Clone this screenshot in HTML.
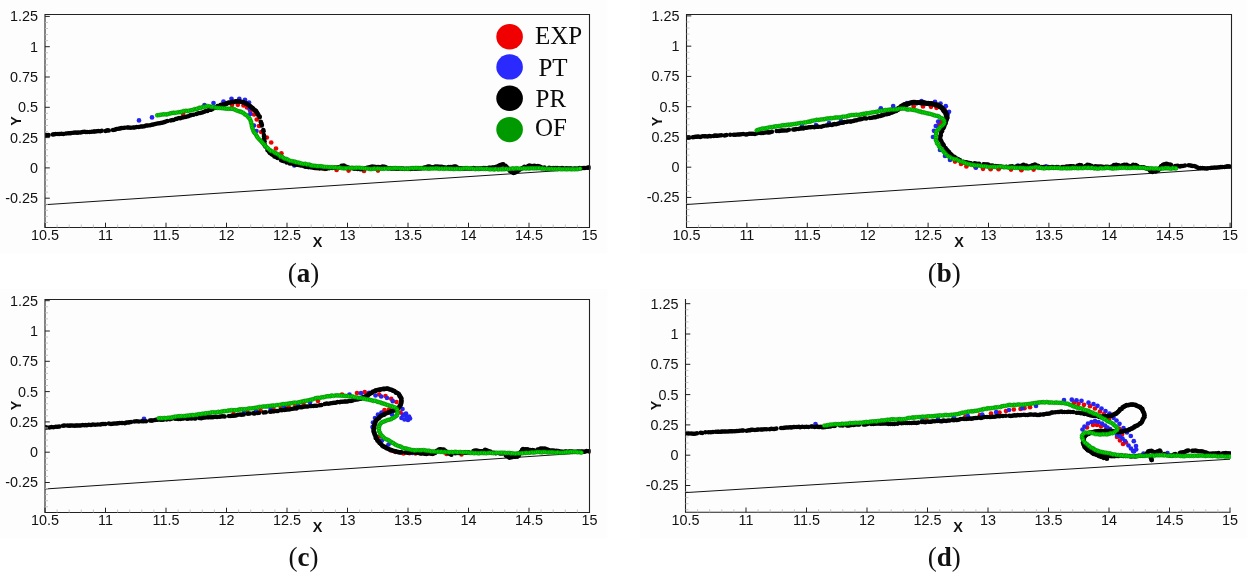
<!DOCTYPE html>
<html lang="en"><head><meta charset="utf-8"><title>Wave breaking profiles</title>
<style>
html,body{margin:0;padding:0;background:#fff}
body{width:1250px;height:580px;position:relative;overflow:hidden}
.cap{position:absolute;width:80px;margin-left:-40px;text-align:center;font-family:"Liberation Serif",serif;font-size:27px;line-height:30px;color:#111;white-space:nowrap}
.cap b{font-weight:bold}
</style></head><body>
<svg width="1250" height="580" viewBox="0 0 1250 580" style="position:absolute;left:0;top:0"><g fill="#fdfdfd"><rect x="0" y="0" width="607.5" height="253.5"/><rect x="640" y="0" width="607.5" height="253.5"/><rect x="0" y="289" width="607.5" height="249.5"/><rect x="640" y="289" width="607.5" height="249.5"/></g><g id="panel-a"><clipPath id="clip-a"><rect x="45" y="14.5" width="545.5" height="213.0"/></clipPath><path d="M45 204.7L589.5 168.6" stroke="#111" stroke-width="1" fill="none"/><g clip-path="url(#clip-a)"><g fill="#f00000"><circle cx="183.0" cy="113.6" r="2.35"/><circle cx="232.0" cy="105.0" r="2.35"/><circle cx="237.8" cy="104.8" r="2.35"/><circle cx="243.5" cy="105.5" r="2.35"/><circle cx="247.0" cy="107.5" r="2.35"/><circle cx="250.5" cy="111.2" r="2.35"/><circle cx="254.0" cy="114.5" r="2.35"/><circle cx="256.8" cy="119.5" r="2.35"/><circle cx="259.0" cy="126.0" r="2.35"/><circle cx="261.2" cy="132.0" r="2.35"/><circle cx="266.8" cy="137.5" r="2.35"/><circle cx="271.2" cy="142.5" r="2.35"/><circle cx="276.0" cy="148.5" r="2.35"/><circle cx="281.4" cy="153.3" r="2.35"/><circle cx="316.4" cy="168.2" r="2.35"/><circle cx="325.0" cy="169.0" r="2.35"/><circle cx="336.6" cy="170.0" r="2.35"/><circle cx="348.6" cy="170.6" r="2.35"/><circle cx="364.0" cy="171.0" r="2.35"/><circle cx="378.0" cy="170.6" r="2.35"/></g><g fill="#2424f4"><circle cx="139.0" cy="120.4" r="2.35"/><circle cx="152.0" cy="117.4" r="2.35"/><circle cx="204.5" cy="105.0" r="2.35"/><circle cx="213.5" cy="103.0" r="2.35"/><circle cx="223.5" cy="101.5" r="2.35"/><circle cx="231.5" cy="98.8" r="2.35"/><circle cx="239.3" cy="98.8" r="2.35"/><circle cx="245.0" cy="99.8" r="2.35"/><circle cx="249.0" cy="102.5" r="2.35"/><circle cx="249.5" cy="109.0" r="2.35"/><circle cx="250.3" cy="114.0" r="2.35"/><circle cx="254.0" cy="125.5" r="2.35"/><circle cx="256.5" cy="131.0" r="2.35"/><circle cx="275.0" cy="155.0" r="2.35"/><circle cx="294.3" cy="165.4" r="2.35"/><circle cx="308.4" cy="167.1" r="2.35"/></g><g fill="#000"><circle cx="45.0" cy="135.5" r="2.25"/><circle cx="46.8" cy="135.1" r="2.25"/><circle cx="48.6" cy="135.1" r="2.25"/><circle cx="52.8" cy="134.6" r="2.25"/><circle cx="54.1" cy="134.2" r="2.25"/><circle cx="55.7" cy="134.1" r="2.25"/><circle cx="58.0" cy="133.9" r="2.25"/><circle cx="59.5" cy="134.0" r="2.25"/><circle cx="61.4" cy="133.7" r="2.25"/><circle cx="63.3" cy="134.0" r="2.25"/><circle cx="66.0" cy="133.5" r="2.25"/><circle cx="68.3" cy="133.3" r="2.25"/><circle cx="70.1" cy="133.3" r="2.25"/><circle cx="71.2" cy="133.1" r="2.25"/><circle cx="73.4" cy="132.7" r="2.25"/><circle cx="75.2" cy="132.6" r="2.25"/><circle cx="77.0" cy="132.7" r="2.25"/><circle cx="78.3" cy="132.4" r="2.25"/><circle cx="80.6" cy="132.4" r="2.25"/><circle cx="82.4" cy="132.1" r="2.25"/><circle cx="84.2" cy="131.8" r="2.25"/><circle cx="85.7" cy="131.9" r="2.25"/><circle cx="87.1" cy="132.1" r="2.25"/><circle cx="89.5" cy="132.1" r="2.25"/><circle cx="91.6" cy="131.7" r="2.25"/><circle cx="93.8" cy="131.4" r="2.25"/><circle cx="94.8" cy="131.6" r="2.25"/><circle cx="96.8" cy="131.3" r="2.25"/><circle cx="98.3" cy="131.1" r="2.25"/><circle cx="100.2" cy="131.2" r="2.25"/><circle cx="101.8" cy="130.7" r="2.25"/><circle cx="105.6" cy="130.9" r="2.25"/><circle cx="107.3" cy="130.3" r="2.25"/><circle cx="108.8" cy="130.6" r="2.25"/><circle cx="113.0" cy="129.9" r="2.25"/><circle cx="114.8" cy="129.8" r="2.25"/><circle cx="116.4" cy="129.0" r="2.25"/><circle cx="118.4" cy="128.8" r="2.25"/><circle cx="120.1" cy="128.6" r="2.25"/><circle cx="121.3" cy="128.1" r="2.25"/><circle cx="122.9" cy="127.9" r="2.25"/><circle cx="124.6" cy="127.7" r="2.25"/><circle cx="127.2" cy="127.6" r="2.25"/><circle cx="128.7" cy="127.5" r="2.25"/><circle cx="130.6" cy="127.7" r="2.25"/><circle cx="133.0" cy="127.4" r="2.25"/><circle cx="134.6" cy="127.5" r="2.25"/><circle cx="136.7" cy="126.9" r="2.25"/><circle cx="138.8" cy="126.9" r="2.25"/><circle cx="140.9" cy="126.5" r="2.25"/><circle cx="142.5" cy="126.4" r="2.25"/><circle cx="144.4" cy="126.2" r="2.25"/><circle cx="146.1" cy="125.5" r="2.25"/><circle cx="147.9" cy="125.4" r="2.25"/><circle cx="150.2" cy="125.2" r="2.25"/><circle cx="151.8" cy="124.8" r="2.25"/><circle cx="153.3" cy="124.6" r="2.25"/><circle cx="155.2" cy="124.0" r="2.25"/><circle cx="157.3" cy="123.4" r="2.25"/><circle cx="159.3" cy="123.2" r="2.25"/><circle cx="160.7" cy="123.0" r="2.25"/><circle cx="162.0" cy="122.7" r="2.25"/><circle cx="164.0" cy="122.2" r="2.25"/><circle cx="165.2" cy="121.8" r="2.25"/><circle cx="167.3" cy="121.1" r="2.25"/><circle cx="170.7" cy="120.5" r="2.25"/><circle cx="172.5" cy="120.1" r="2.25"/><circle cx="173.5" cy="119.9" r="2.25"/><circle cx="175.8" cy="119.0" r="2.25"/><circle cx="176.9" cy="118.7" r="2.25"/><circle cx="179.0" cy="118.1" r="2.25"/><circle cx="180.3" cy="118.2" r="2.25"/><circle cx="182.0" cy="117.4" r="2.25"/><circle cx="183.4" cy="117.2" r="2.25"/><circle cx="185.0" cy="116.9" r="2.25"/><circle cx="186.0" cy="116.7" r="2.25"/><circle cx="188.2" cy="116.3" r="2.25"/><circle cx="190.0" cy="115.6" r="2.25"/><circle cx="191.1" cy="115.1" r="2.25"/><circle cx="193.4" cy="114.7" r="2.25"/><circle cx="196.3" cy="114.0" r="2.25"/><circle cx="198.3" cy="113.2" r="2.25"/><circle cx="200.1" cy="112.9" r="2.25"/><circle cx="202.2" cy="112.6" r="2.25"/><circle cx="204.1" cy="111.7" r="2.25"/><circle cx="205.9" cy="111.0" r="2.25"/><circle cx="207.2" cy="110.9" r="2.25"/><circle cx="208.4" cy="110.3" r="2.25"/><circle cx="210.0" cy="109.7" r="2.25"/><circle cx="210.2" cy="109.8" r="2.25"/></g><g fill="#000"><circle cx="210.3" cy="109.5" r="2.4"/><circle cx="211.8" cy="109.3" r="2.4"/><circle cx="212.9" cy="108.3" r="2.4"/><circle cx="214.7" cy="107.9" r="2.4"/><circle cx="216.5" cy="107.3" r="2.4"/><circle cx="217.7" cy="106.2" r="2.4"/><circle cx="219.4" cy="105.8" r="2.4"/><circle cx="221.0" cy="105.0" r="2.4"/><circle cx="222.5" cy="105.0" r="2.4"/><circle cx="224.2" cy="104.5" r="2.4"/><circle cx="225.8" cy="104.0" r="2.4"/><circle cx="226.8" cy="103.5" r="2.4"/><circle cx="228.6" cy="102.7" r="2.4"/><circle cx="230.4" cy="102.6" r="2.4"/><circle cx="232.1" cy="101.9" r="2.4"/><circle cx="233.7" cy="102.0" r="2.4"/><circle cx="235.7" cy="101.4" r="2.4"/><circle cx="237.1" cy="101.4" r="2.4"/><circle cx="238.7" cy="101.5" r="2.4"/><circle cx="240.3" cy="101.6" r="2.4"/><circle cx="242.3" cy="102.1" r="2.4"/><circle cx="243.3" cy="102.3" r="2.4"/><circle cx="245.0" cy="103.1" r="2.4"/><circle cx="246.4" cy="103.7" r="2.4"/><circle cx="247.9" cy="104.6" r="2.4"/><circle cx="249.7" cy="105.9" r="2.4"/><circle cx="250.8" cy="106.9" r="2.4"/><circle cx="252.2" cy="107.9" r="2.4"/><circle cx="253.4" cy="109.0" r="2.4"/><circle cx="255.0" cy="110.4" r="2.4"/><circle cx="256.0" cy="111.2" r="2.4"/><circle cx="256.9" cy="112.6" r="2.4"/><circle cx="257.6" cy="114.0" r="2.4"/><circle cx="258.5" cy="115.3" r="2.4"/><circle cx="259.7" cy="117.0" r="2.4"/></g><g fill="#000"><circle cx="260.7" cy="121.8" r="2.25"/><circle cx="261.1" cy="122.6" r="2.25"/><circle cx="261.7" cy="124.3" r="2.25"/><circle cx="261.8" cy="125.4" r="2.25"/><circle cx="263.3" cy="129.9" r="2.25"/><circle cx="263.5" cy="131.2" r="2.25"/><circle cx="263.9" cy="134.9" r="2.25"/><circle cx="264.1" cy="136.3" r="2.25"/><circle cx="264.2" cy="138.2" r="2.25"/><circle cx="264.0" cy="139.8" r="2.25"/><circle cx="264.5" cy="141.3" r="2.25"/><circle cx="264.4" cy="143.4" r="2.25"/><circle cx="264.5" cy="145.1" r="2.25"/><circle cx="265.4" cy="146.6" r="2.25"/><circle cx="267.4" cy="150.1" r="2.25"/><circle cx="268.7" cy="151.6" r="2.25"/><circle cx="269.9" cy="153.1" r="2.25"/><circle cx="271.6" cy="154.2" r="2.25"/><circle cx="273.1" cy="155.1" r="2.25"/><circle cx="274.4" cy="156.4" r="2.25"/><circle cx="276.2" cy="157.1" r="2.25"/><circle cx="277.5" cy="157.9" r="2.25"/><circle cx="281.1" cy="160.2" r="2.25"/><circle cx="282.7" cy="160.8" r="2.25"/><circle cx="284.1" cy="161.2" r="2.25"/><circle cx="286.7" cy="162.4" r="2.25"/><circle cx="289.8" cy="163.4" r="2.25"/><circle cx="292.0" cy="163.5" r="2.25"/><circle cx="293.8" cy="164.1" r="2.25"/><circle cx="295.1" cy="164.8" r="2.25"/><circle cx="297.2" cy="164.7" r="2.25"/><circle cx="298.5" cy="164.9" r="2.25"/><circle cx="300.7" cy="165.6" r="2.25"/><circle cx="302.7" cy="165.6" r="2.25"/><circle cx="304.2" cy="166.2" r="2.25"/><circle cx="305.7" cy="166.7" r="2.25"/><circle cx="307.7" cy="166.8" r="2.25"/><circle cx="308.9" cy="167.1" r="2.25"/><circle cx="310.7" cy="167.2" r="2.25"/><circle cx="311.9" cy="167.3" r="2.25"/><circle cx="313.6" cy="167.7" r="2.25"/><circle cx="314.8" cy="168.0" r="2.25"/><circle cx="316.7" cy="167.7" r="2.25"/><circle cx="317.5" cy="167.9" r="2.25"/><circle cx="319.5" cy="168.4" r="2.25"/><circle cx="321.3" cy="168.1" r="2.25"/><circle cx="322.7" cy="168.4" r="2.25"/><circle cx="324.5" cy="168.2" r="2.25"/><circle cx="326.0" cy="168.7" r="2.25"/><circle cx="327.1" cy="168.3" r="2.25"/><circle cx="329.1" cy="168.2" r="2.25"/><circle cx="332.1" cy="168.0" r="2.25"/><circle cx="334.5" cy="167.7" r="2.25"/><circle cx="336.2" cy="167.6" r="2.25"/><circle cx="338.7" cy="167.2" r="2.25"/><circle cx="340.1" cy="166.9" r="2.25"/><circle cx="341.6" cy="165.7" r="2.25"/><circle cx="343.8" cy="165.5" r="2.25"/><circle cx="345.6" cy="166.5" r="2.25"/><circle cx="347.7" cy="167.3" r="2.25"/><circle cx="349.0" cy="168.0" r="2.25"/><circle cx="351.2" cy="168.1" r="2.25"/><circle cx="352.7" cy="168.1" r="2.25"/><circle cx="354.1" cy="168.7" r="2.25"/><circle cx="355.8" cy="168.6" r="2.25"/><circle cx="357.6" cy="169.1" r="2.25"/><circle cx="359.3" cy="169.1" r="2.25"/><circle cx="360.7" cy="169.3" r="2.25"/><circle cx="362.2" cy="169.0" r="2.25"/><circle cx="364.1" cy="168.8" r="2.25"/><circle cx="366.2" cy="168.0" r="2.25"/><circle cx="368.0" cy="167.5" r="2.25"/><circle cx="370.2" cy="167.1" r="2.25"/><circle cx="372.1" cy="166.4" r="2.25"/><circle cx="374.2" cy="166.8" r="2.25"/><circle cx="375.6" cy="167.1" r="2.25"/><circle cx="377.1" cy="166.9" r="2.25"/><circle cx="378.7" cy="167.1" r="2.25"/><circle cx="380.4" cy="167.3" r="2.25"/><circle cx="382.5" cy="166.4" r="2.25"/><circle cx="384.5" cy="166.7" r="2.25"/><circle cx="385.8" cy="167.3" r="2.25"/><circle cx="387.6" cy="168.3" r="2.25"/><circle cx="388.7" cy="168.2" r="2.25"/><circle cx="390.3" cy="168.2" r="2.25"/><circle cx="392.0" cy="168.7" r="2.25"/><circle cx="393.7" cy="168.5" r="2.25"/><circle cx="395.5" cy="168.6" r="2.25"/><circle cx="397.0" cy="168.7" r="2.25"/><circle cx="398.9" cy="168.7" r="2.25"/><circle cx="401.2" cy="168.6" r="2.25"/><circle cx="402.9" cy="168.7" r="2.25"/><circle cx="403.9" cy="168.8" r="2.25"/><circle cx="406.3" cy="168.7" r="2.25"/><circle cx="408.2" cy="168.8" r="2.25"/><circle cx="410.2" cy="169.0" r="2.25"/><circle cx="411.6" cy="168.8" r="2.25"/><circle cx="412.9" cy="168.5" r="2.25"/><circle cx="414.9" cy="168.8" r="2.25"/><circle cx="416.6" cy="168.5" r="2.25"/><circle cx="417.9" cy="168.5" r="2.25"/><circle cx="420.0" cy="168.4" r="2.25"/><circle cx="421.5" cy="168.3" r="2.25"/><circle cx="423.1" cy="168.0" r="2.25"/><circle cx="424.6" cy="167.5" r="2.25"/><circle cx="426.4" cy="167.2" r="2.25"/><circle cx="427.9" cy="166.5" r="2.25"/><circle cx="429.6" cy="166.6" r="2.25"/><circle cx="431.6" cy="167.2" r="2.25"/><circle cx="433.2" cy="167.2" r="2.25"/><circle cx="435.4" cy="166.6" r="2.25"/><circle cx="437.7" cy="166.6" r="2.25"/><circle cx="440.0" cy="166.7" r="2.25"/><circle cx="441.8" cy="166.7" r="2.25"/><circle cx="443.5" cy="167.2" r="2.25"/><circle cx="445.4" cy="167.6" r="2.25"/><circle cx="447.4" cy="167.7" r="2.25"/><circle cx="448.7" cy="167.1" r="2.25"/><circle cx="450.3" cy="167.1" r="2.25"/><circle cx="452.0" cy="167.0" r="2.25"/><circle cx="454.0" cy="166.5" r="2.25"/><circle cx="455.7" cy="166.6" r="2.25"/><circle cx="457.1" cy="167.6" r="2.25"/><circle cx="459.2" cy="168.5" r="2.25"/><circle cx="460.7" cy="168.3" r="2.25"/><circle cx="463.0" cy="168.6" r="2.25"/><circle cx="464.3" cy="168.5" r="2.25"/><circle cx="465.9" cy="168.3" r="2.25"/><circle cx="467.2" cy="168.6" r="2.25"/><circle cx="469.6" cy="168.7" r="2.25"/><circle cx="471.5" cy="168.5" r="2.25"/><circle cx="473.6" cy="168.1" r="2.25"/><circle cx="475.6" cy="168.5" r="2.25"/><circle cx="477.7" cy="168.5" r="2.25"/><circle cx="479.8" cy="168.5" r="2.25"/><circle cx="481.3" cy="168.6" r="2.25"/><circle cx="483.2" cy="168.1" r="2.25"/><circle cx="485.0" cy="168.0" r="2.25"/><circle cx="486.6" cy="168.2" r="2.25"/><circle cx="488.8" cy="167.7" r="2.25"/><circle cx="490.0" cy="167.7" r="2.25"/><circle cx="492.3" cy="167.6" r="2.25"/><circle cx="493.5" cy="167.4" r="2.25"/><circle cx="495.8" cy="167.1" r="2.25"/><circle cx="497.3" cy="166.4" r="2.25"/><circle cx="498.9" cy="165.8" r="2.25"/><circle cx="500.3" cy="165.0" r="2.25"/><circle cx="502.1" cy="164.6" r="2.25"/><circle cx="503.2" cy="164.3" r="2.25"/><circle cx="505.5" cy="165.7" r="2.25"/><circle cx="506.6" cy="166.9" r="2.25"/><circle cx="508.1" cy="168.5" r="2.25"/><circle cx="508.9" cy="169.5" r="2.25"/><circle cx="510.1" cy="170.9" r="2.25"/><circle cx="511.6" cy="172.1" r="2.25"/><circle cx="513.5" cy="172.9" r="2.25"/><circle cx="515.1" cy="172.5" r="2.25"/><circle cx="516.4" cy="171.4" r="2.25"/><circle cx="517.9" cy="170.9" r="2.25"/><circle cx="519.4" cy="169.8" r="2.25"/><circle cx="520.7" cy="168.9" r="2.25"/><circle cx="522.5" cy="167.9" r="2.25"/><circle cx="524.4" cy="166.8" r="2.25"/><circle cx="528.2" cy="166.0" r="2.25"/><circle cx="529.5" cy="165.5" r="2.25"/><circle cx="531.3" cy="166.1" r="2.25"/><circle cx="533.0" cy="166.0" r="2.25"/><circle cx="534.5" cy="165.7" r="2.25"/><circle cx="535.9" cy="166.2" r="2.25"/><circle cx="537.9" cy="166.0" r="2.25"/><circle cx="539.5" cy="166.6" r="2.25"/><circle cx="540.8" cy="167.1" r="2.25"/><circle cx="544.4" cy="167.6" r="2.25"/><circle cx="549.2" cy="167.8" r="2.25"/><circle cx="551.4" cy="168.2" r="2.25"/><circle cx="553.1" cy="168.0" r="2.25"/><circle cx="555.2" cy="167.9" r="2.25"/><circle cx="557.1" cy="167.9" r="2.25"/><circle cx="558.5" cy="168.3" r="2.25"/><circle cx="560.1" cy="168.6" r="2.25"/><circle cx="562.1" cy="168.1" r="2.25"/><circle cx="563.5" cy="168.4" r="2.25"/><circle cx="566.2" cy="168.3" r="2.25"/><circle cx="568.2" cy="168.5" r="2.25"/><circle cx="570.0" cy="168.6" r="2.25"/><circle cx="571.1" cy="168.4" r="2.25"/><circle cx="573.4" cy="168.7" r="2.25"/><circle cx="574.4" cy="168.7" r="2.25"/><circle cx="575.6" cy="168.6" r="2.25"/><circle cx="578.0" cy="168.4" r="2.25"/><circle cx="579.7" cy="168.0" r="2.25"/><circle cx="581.3" cy="168.3" r="2.25"/><circle cx="583.2" cy="168.1" r="2.25"/><circle cx="584.7" cy="168.1" r="2.25"/><circle cx="587.2" cy="167.8" r="2.25"/><circle cx="588.6" cy="167.6" r="2.25"/><circle cx="589.7" cy="167.6" r="2.25"/></g><g fill="#00dc00" stroke="#007a00" stroke-width="0.55"><circle cx="157.2" cy="115.3" r="1.95"/><circle cx="159.1" cy="115.1" r="1.95"/><circle cx="160.8" cy="114.7" r="1.95"/><circle cx="162.9" cy="114.4" r="1.95"/><circle cx="164.4" cy="114.3" r="1.95"/><circle cx="166.5" cy="114.5" r="1.95"/><circle cx="168.1" cy="114.0" r="1.95"/><circle cx="170.0" cy="113.5" r="1.95"/><circle cx="171.6" cy="113.1" r="1.95"/><circle cx="173.3" cy="112.8" r="1.95"/><circle cx="174.7" cy="112.9" r="1.95"/><circle cx="176.6" cy="112.6" r="1.95"/><circle cx="178.7" cy="112.2" r="1.95"/><circle cx="180.4" cy="112.1" r="1.95"/><circle cx="181.9" cy="111.8" r="1.95"/><circle cx="183.8" cy="111.0" r="1.95"/><circle cx="185.9" cy="110.8" r="1.95"/><circle cx="187.5" cy="111.0" r="1.95"/><circle cx="189.2" cy="110.6" r="1.95"/><circle cx="191.2" cy="110.3" r="1.95"/><circle cx="192.8" cy="109.9" r="1.95"/><circle cx="194.7" cy="109.1" r="1.95"/><circle cx="196.3" cy="109.2" r="1.95"/><circle cx="197.4" cy="108.7" r="1.95"/><circle cx="199.3" cy="107.8" r="1.95"/><circle cx="200.7" cy="107.9" r="1.95"/><circle cx="202.6" cy="107.0" r="1.95"/><circle cx="204.2" cy="106.9" r="1.95"/><circle cx="206.0" cy="106.4" r="1.95"/><circle cx="207.7" cy="106.1" r="1.95"/><circle cx="209.7" cy="106.4" r="1.95"/><circle cx="211.4" cy="107.0" r="1.95"/><circle cx="212.8" cy="106.9" r="1.95"/><circle cx="214.9" cy="107.5" r="1.95"/><circle cx="216.0" cy="107.6" r="1.95"/><circle cx="217.7" cy="107.9" r="1.95"/><circle cx="219.6" cy="107.9" r="1.95"/><circle cx="221.5" cy="108.1" r="1.95"/><circle cx="223.2" cy="108.2" r="1.95"/><circle cx="225.0" cy="108.5" r="1.95"/><circle cx="226.9" cy="108.7" r="1.95"/><circle cx="228.8" cy="108.7" r="1.95"/><circle cx="230.7" cy="108.7" r="1.95"/><circle cx="232.2" cy="108.8" r="1.95"/><circle cx="233.9" cy="109.1" r="1.95"/><circle cx="235.3" cy="109.8" r="1.95"/><circle cx="236.9" cy="110.6" r="1.95"/><circle cx="238.9" cy="111.3" r="1.95"/><circle cx="240.5" cy="111.6" r="1.95"/><circle cx="241.6" cy="112.2" r="1.95"/><circle cx="243.5" cy="112.9" r="1.95"/><circle cx="244.8" cy="114.4" r="1.95"/><circle cx="246.4" cy="115.0" r="1.95"/><circle cx="247.8" cy="116.6" r="1.95"/><circle cx="248.9" cy="117.7" r="1.95"/><circle cx="250.0" cy="119.2" r="1.95"/><circle cx="250.9" cy="121.3" r="1.95"/><circle cx="251.1" cy="122.8" r="1.95"/><circle cx="251.9" cy="124.7" r="1.95"/><circle cx="251.8" cy="126.1" r="1.95"/><circle cx="252.3" cy="127.9" r="1.95"/><circle cx="253.1" cy="129.8" r="1.95"/><circle cx="253.6" cy="131.4" r="1.95"/><circle cx="254.4" cy="132.7" r="1.95"/><circle cx="255.4" cy="133.8" r="1.95"/><circle cx="256.5" cy="135.6" r="1.95"/><circle cx="257.2" cy="136.9" r="1.95"/><circle cx="258.5" cy="138.6" r="1.95"/><circle cx="259.9" cy="139.9" r="1.95"/><circle cx="261.2" cy="141.2" r="1.95"/><circle cx="262.2" cy="142.5" r="1.95"/><circle cx="263.4" cy="143.8" r="1.95"/><circle cx="264.8" cy="144.9" r="1.95"/><circle cx="265.6" cy="146.3" r="1.95"/><circle cx="267.1" cy="147.6" r="1.95"/><circle cx="268.0" cy="148.5" r="1.95"/><circle cx="269.8" cy="150.0" r="1.95"/><circle cx="271.1" cy="151.1" r="1.95"/><circle cx="273.2" cy="151.6" r="1.95"/><circle cx="274.7" cy="152.7" r="1.95"/><circle cx="276.0" cy="153.4" r="1.95"/><circle cx="277.5" cy="154.1" r="1.95"/><circle cx="279.1" cy="155.1" r="1.95"/><circle cx="280.3" cy="156.2" r="1.95"/><circle cx="282.1" cy="156.8" r="1.95"/><circle cx="283.1" cy="157.7" r="1.95"/><circle cx="284.8" cy="158.7" r="1.95"/><circle cx="286.5" cy="159.0" r="1.95"/><circle cx="288.0" cy="159.7" r="1.95"/><circle cx="289.9" cy="160.8" r="1.95"/><circle cx="292.0" cy="161.1" r="1.95"/><circle cx="293.7" cy="161.6" r="1.95"/><circle cx="295.1" cy="161.7" r="1.95"/><circle cx="296.4" cy="162.4" r="1.95"/><circle cx="298.3" cy="162.6" r="1.95"/><circle cx="299.6" cy="163.0" r="1.95"/><circle cx="301.4" cy="163.5" r="1.95"/><circle cx="303.6" cy="164.0" r="1.95"/><circle cx="305.3" cy="163.8" r="1.95"/><circle cx="307.0" cy="164.5" r="1.95"/><circle cx="309.2" cy="164.5" r="1.95"/><circle cx="310.7" cy="165.3" r="1.95"/><circle cx="311.8" cy="165.6" r="1.95"/><circle cx="313.7" cy="165.8" r="1.95"/><circle cx="315.3" cy="165.9" r="1.95"/><circle cx="316.9" cy="166.2" r="1.95"/><circle cx="318.4" cy="166.2" r="1.95"/><circle cx="320.5" cy="166.3" r="1.95"/><circle cx="321.8" cy="166.4" r="1.95"/><circle cx="323.5" cy="166.8" r="1.95"/><circle cx="325.2" cy="166.9" r="1.95"/><circle cx="327.2" cy="167.0" r="1.95"/><circle cx="329.1" cy="167.2" r="1.95"/><circle cx="330.6" cy="167.3" r="1.95"/><circle cx="332.5" cy="167.2" r="1.95"/><circle cx="334.0" cy="167.6" r="1.95"/><circle cx="335.9" cy="167.4" r="1.95"/><circle cx="338.0" cy="167.9" r="1.95"/><circle cx="339.7" cy="167.5" r="1.95"/><circle cx="341.8" cy="168.1" r="1.95"/><circle cx="343.6" cy="168.3" r="1.95"/><circle cx="345.1" cy="168.2" r="1.95"/><circle cx="346.6" cy="168.2" r="1.95"/><circle cx="348.8" cy="167.9" r="1.95"/><circle cx="350.4" cy="168.2" r="1.95"/><circle cx="351.8" cy="167.9" r="1.95"/><circle cx="353.7" cy="168.0" r="1.95"/><circle cx="355.4" cy="167.9" r="1.95"/><circle cx="356.9" cy="167.8" r="1.95"/><circle cx="359.0" cy="167.8" r="1.95"/><circle cx="360.6" cy="168.0" r="1.95"/><circle cx="362.4" cy="168.1" r="1.95"/><circle cx="364.3" cy="168.5" r="1.95"/><circle cx="366.1" cy="168.4" r="1.95"/><circle cx="368.3" cy="168.6" r="1.95"/><circle cx="369.9" cy="169.0" r="1.95"/><circle cx="371.4" cy="169.0" r="1.95"/><circle cx="373.2" cy="168.8" r="1.95"/><circle cx="374.6" cy="168.5" r="1.95"/><circle cx="376.6" cy="168.9" r="1.95"/><circle cx="377.8" cy="168.4" r="1.95"/><circle cx="379.9" cy="168.7" r="1.95"/><circle cx="381.9" cy="168.7" r="1.95"/><circle cx="383.6" cy="168.7" r="1.95"/><circle cx="385.1" cy="168.6" r="1.95"/><circle cx="387.4" cy="168.5" r="1.95"/><circle cx="388.8" cy="168.5" r="1.95"/><circle cx="390.7" cy="168.2" r="1.95"/><circle cx="392.6" cy="168.5" r="1.95"/><circle cx="394.0" cy="168.1" r="1.95"/><circle cx="395.7" cy="168.1" r="1.95"/><circle cx="397.8" cy="168.3" r="1.95"/><circle cx="399.5" cy="168.3" r="1.95"/><circle cx="400.8" cy="168.6" r="1.95"/><circle cx="402.5" cy="168.6" r="1.95"/><circle cx="404.5" cy="168.9" r="1.95"/><circle cx="406.4" cy="168.6" r="1.95"/><circle cx="408.1" cy="168.9" r="1.95"/><circle cx="410.2" cy="168.3" r="1.95"/><circle cx="412.0" cy="168.1" r="1.95"/><circle cx="413.6" cy="168.2" r="1.95"/><circle cx="415.3" cy="168.0" r="1.95"/><circle cx="416.9" cy="168.0" r="1.95"/><circle cx="418.8" cy="168.1" r="1.95"/><circle cx="420.4" cy="168.2" r="1.95"/><circle cx="421.9" cy="168.1" r="1.95"/><circle cx="423.7" cy="168.6" r="1.95"/><circle cx="425.5" cy="168.4" r="1.95"/><circle cx="427.5" cy="168.6" r="1.95"/><circle cx="429.2" cy="168.7" r="1.95"/><circle cx="430.8" cy="168.4" r="1.95"/><circle cx="432.7" cy="168.5" r="1.95"/><circle cx="434.7" cy="168.4" r="1.95"/><circle cx="436.4" cy="168.3" r="1.95"/><circle cx="438.1" cy="168.5" r="1.95"/><circle cx="439.7" cy="168.8" r="1.95"/><circle cx="442.0" cy="168.5" r="1.95"/><circle cx="443.7" cy="168.9" r="1.95"/><circle cx="445.4" cy="168.5" r="1.95"/><circle cx="447.2" cy="168.6" r="1.95"/><circle cx="449.0" cy="168.7" r="1.95"/><circle cx="450.4" cy="168.8" r="1.95"/><circle cx="452.2" cy="168.8" r="1.95"/><circle cx="453.7" cy="169.0" r="1.95"/><circle cx="455.2" cy="168.9" r="1.95"/><circle cx="457.1" cy="168.7" r="1.95"/><circle cx="459.0" cy="168.9" r="1.95"/><circle cx="460.3" cy="168.9" r="1.95"/><circle cx="462.4" cy="168.7" r="1.95"/><circle cx="464.1" cy="168.3" r="1.95"/><circle cx="465.9" cy="168.1" r="1.95"/><circle cx="467.6" cy="168.2" r="1.95"/><circle cx="469.5" cy="168.7" r="1.95"/><circle cx="471.5" cy="168.5" r="1.95"/><circle cx="473.3" cy="168.6" r="1.95"/><circle cx="475.2" cy="169.1" r="1.95"/><circle cx="477.1" cy="168.8" r="1.95"/><circle cx="478.7" cy="169.0" r="1.95"/><circle cx="480.2" cy="168.6" r="1.95"/><circle cx="481.9" cy="168.7" r="1.95"/><circle cx="483.7" cy="168.9" r="1.95"/><circle cx="485.5" cy="168.9" r="1.95"/><circle cx="487.1" cy="168.7" r="1.95"/><circle cx="489.1" cy="169.2" r="1.95"/><circle cx="490.7" cy="169.3" r="1.95"/><circle cx="492.7" cy="169.1" r="1.95"/><circle cx="494.2" cy="169.5" r="1.95"/><circle cx="495.7" cy="169.0" r="1.95"/><circle cx="497.9" cy="169.4" r="1.95"/><circle cx="499.1" cy="169.2" r="1.95"/><circle cx="501.2" cy="169.3" r="1.95"/><circle cx="503.0" cy="169.2" r="1.95"/><circle cx="504.8" cy="169.2" r="1.95"/><circle cx="506.3" cy="168.8" r="1.95"/><circle cx="508.3" cy="169.2" r="1.95"/><circle cx="510.2" cy="168.9" r="1.95"/><circle cx="512.2" cy="168.5" r="1.95"/><circle cx="513.4" cy="168.5" r="1.95"/><circle cx="515.5" cy="168.6" r="1.95"/><circle cx="516.7" cy="168.2" r="1.95"/><circle cx="518.4" cy="168.6" r="1.95"/><circle cx="520.4" cy="168.6" r="1.95"/><circle cx="522.4" cy="168.6" r="1.95"/><circle cx="524.1" cy="168.2" r="1.95"/><circle cx="525.9" cy="168.6" r="1.95"/><circle cx="527.9" cy="168.3" r="1.95"/><circle cx="529.4" cy="168.5" r="1.95"/><circle cx="531.0" cy="168.1" r="1.95"/><circle cx="532.7" cy="168.2" r="1.95"/><circle cx="534.3" cy="168.3" r="1.95"/><circle cx="536.3" cy="168.3" r="1.95"/><circle cx="538.0" cy="168.1" r="1.95"/><circle cx="539.3" cy="168.1" r="1.95"/><circle cx="541.4" cy="168.5" r="1.95"/><circle cx="542.6" cy="168.5" r="1.95"/><circle cx="544.7" cy="168.8" r="1.95"/><circle cx="546.6" cy="168.9" r="1.95"/><circle cx="548.2" cy="168.9" r="1.95"/><circle cx="549.8" cy="168.9" r="1.95"/><circle cx="551.9" cy="168.8" r="1.95"/><circle cx="553.6" cy="169.1" r="1.95"/><circle cx="555.4" cy="168.9" r="1.95"/><circle cx="557.3" cy="169.2" r="1.95"/><circle cx="559.0" cy="168.8" r="1.95"/><circle cx="560.8" cy="169.2" r="1.95"/><circle cx="562.6" cy="169.2" r="1.95"/><circle cx="564.5" cy="169.1" r="1.95"/><circle cx="566.1" cy="169.2" r="1.95"/><circle cx="567.6" cy="169.2" r="1.95"/><circle cx="569.5" cy="169.1" r="1.95"/><circle cx="571.3" cy="169.3" r="1.95"/><circle cx="572.7" cy="169.1" r="1.95"/><circle cx="574.6" cy="169.3" r="1.95"/><circle cx="576.6" cy="169.1" r="1.95"/><circle cx="577.9" cy="169.1" r="1.95"/><circle cx="580.1" cy="168.6" r="1.95"/></g></g><g stroke="#222" stroke-width="1" fill="none" shape-rendering="auto"><path d="M45 14.5H589.5V227.5H45Z" stroke-width="1.1"/><path d="M45 198.20h4.8M45 167.90h4.8M45 137.60h4.8M45 107.30h4.8M45 77.00h4.8M45 46.70h4.8M45 16.40h4.8M45.00 227.5v-4.8M105.50 227.5v-4.8M166.00 227.5v-4.8M226.50 227.5v-4.8M287.00 227.5v-4.8M347.50 227.5v-4.8M408.00 227.5v-4.8M468.50 227.5v-4.8M529.00 227.5v-4.8M589.50 227.5v-4.8" stroke-width="1"/><path d="M45 222.44h3M45 216.38h3M45 210.32h3M45 204.26h3M45 192.14h3M45 186.08h3M45 180.02h3M45 173.96h3M45 161.84h3M45 155.78h3M45 149.72h3M45 143.66h3M45 131.54h3M45 125.48h3M45 119.42h3M45 113.36h3M45 101.24h3M45 95.18h3M45 89.12h3M45 83.06h3M45 70.94h3M45 64.88h3M45 58.82h3M45 52.76h3M45 40.64h3M45 34.58h3M45 28.52h3M45 22.46h3M57.10 227.5v-3M69.20 227.5v-3M81.30 227.5v-3M93.40 227.5v-3M117.60 227.5v-3M129.70 227.5v-3M141.80 227.5v-3M153.90 227.5v-3M178.10 227.5v-3M190.20 227.5v-3M202.30 227.5v-3M214.40 227.5v-3M238.60 227.5v-3M250.70 227.5v-3M262.80 227.5v-3M274.90 227.5v-3M299.10 227.5v-3M311.20 227.5v-3M323.30 227.5v-3M335.40 227.5v-3M359.60 227.5v-3M371.70 227.5v-3M383.80 227.5v-3M395.90 227.5v-3M420.10 227.5v-3M432.20 227.5v-3M444.30 227.5v-3M456.40 227.5v-3M480.60 227.5v-3M492.70 227.5v-3M504.80 227.5v-3M516.90 227.5v-3M541.10 227.5v-3M553.20 227.5v-3M565.30 227.5v-3M577.40 227.5v-3" stroke="#bdbdbd" stroke-width="0.9"/></g><g font-family="Liberation Sans, sans-serif" font-size="14.4" fill="#111"><text x="38" y="21.3" text-anchor="end">1.25</text><text x="38" y="51.6" text-anchor="end">1</text><text x="38" y="81.9" text-anchor="end">0.75</text><text x="38" y="112.2" text-anchor="end">0.5</text><text x="38" y="142.5" text-anchor="end">0.25</text><text x="38" y="172.8" text-anchor="end">0</text><text x="38" y="203.1" text-anchor="end">-0.25</text><text x="45.0" y="239.9" text-anchor="middle">10.5</text><text x="105.5" y="239.9" text-anchor="middle">11</text><text x="166.0" y="239.9" text-anchor="middle">11.5</text><text x="226.5" y="239.9" text-anchor="middle">12</text><text x="287.0" y="239.9" text-anchor="middle">12.5</text><text x="347.5" y="239.9" text-anchor="middle">13</text><text x="408.0" y="239.9" text-anchor="middle">13.5</text><text x="468.5" y="239.9" text-anchor="middle">14</text><text x="529.0" y="239.9" text-anchor="middle">14.5</text><text x="589.5" y="239.9" text-anchor="middle">15</text></g><g font-family="Liberation Sans, sans-serif" font-size="14.4" font-weight="bold" fill="#111"><text transform="translate(20.5 121) rotate(-90)" text-anchor="middle">Y</text><text x="317.5" y="246.5" text-anchor="middle">X</text></g><ellipse cx="509.6" cy="36.7" rx="13.3" ry="12.7" fill="#f00000"/><ellipse cx="509.6" cy="66.9" rx="13.3" ry="12.7" fill="#2a2aff"/><ellipse cx="509.6" cy="98.2" rx="13.3" ry="12.7" fill="#000"/><ellipse cx="509.6" cy="129.6" rx="13.3" ry="12.7" fill="#009a00"/><g font-family="Liberation Serif, serif" font-size="25" fill="#0a0a0a"><text x="535" y="44">EXP</text><text x="538.4" y="76.3">PT</text><text x="535.6" y="106.6">PR</text><text x="535" y="136">OF</text></g></g><g id="panel-b"><clipPath id="clip-b"><rect x="686.5" y="14.5" width="546.0" height="213.0"/></clipPath><path d="M686.5 204.5L1231 168" stroke="#111" stroke-width="1" fill="none"/><g clip-path="url(#clip-b)"><g fill="#f00000"><circle cx="913.7" cy="106.5" r="2.35"/><circle cx="923.0" cy="106.5" r="2.35"/><circle cx="931.0" cy="106.8" r="2.35"/><circle cx="936.5" cy="107.8" r="2.35"/><circle cx="944.5" cy="109.0" r="2.35"/><circle cx="940.5" cy="122.0" r="2.35"/><circle cx="938.5" cy="125.0" r="2.35"/><circle cx="955.0" cy="161.6" r="2.35"/><circle cx="961.0" cy="164.0" r="2.35"/><circle cx="966.4" cy="166.4" r="2.35"/><circle cx="975.6" cy="167.4" r="2.35"/><circle cx="983.0" cy="168.8" r="2.35"/><circle cx="990.6" cy="169.2" r="2.35"/><circle cx="998.6" cy="169.2" r="2.35"/><circle cx="1011.0" cy="169.6" r="2.35"/><circle cx="1021.4" cy="170.2" r="2.35"/><circle cx="1033.6" cy="169.6" r="2.35"/></g><g fill="#2424f4"><circle cx="802.0" cy="126.4" r="2.35"/><circle cx="816.0" cy="125.0" r="2.35"/><circle cx="829.0" cy="123.0" r="2.35"/><circle cx="841.0" cy="121.0" r="2.35"/><circle cx="880.8" cy="108.3" r="2.35"/><circle cx="893.2" cy="106.0" r="2.35"/><circle cx="907.0" cy="103.0" r="2.35"/><circle cx="921.5" cy="101.2" r="2.35"/><circle cx="935.0" cy="101.8" r="2.35"/><circle cx="940.5" cy="103.5" r="2.35"/><circle cx="945.8" cy="106.2" r="2.35"/><circle cx="949.0" cy="111.8" r="2.35"/><circle cx="947.5" cy="114.5" r="2.35"/><circle cx="938.2" cy="121.5" r="2.35"/><circle cx="935.8" cy="126.0" r="2.35"/><circle cx="934.0" cy="130.8" r="2.35"/><circle cx="933.0" cy="137.0" r="2.35"/><circle cx="940.0" cy="150.0" r="2.35"/><circle cx="945.0" cy="156.0" r="2.35"/><circle cx="950.0" cy="160.0" r="2.35"/><circle cx="976.0" cy="167.6" r="2.35"/><circle cx="1018.0" cy="165.6" r="2.35"/><circle cx="1046.0" cy="166.4" r="2.35"/></g><g fill="#000"><circle cx="687.0" cy="137.6" r="2.25"/><circle cx="688.4" cy="137.5" r="2.25"/><circle cx="689.4" cy="137.4" r="2.25"/><circle cx="692.9" cy="137.3" r="2.25"/><circle cx="694.2" cy="137.1" r="2.25"/><circle cx="695.6" cy="136.8" r="2.25"/><circle cx="697.0" cy="136.7" r="2.25"/><circle cx="698.4" cy="136.6" r="2.25"/><circle cx="700.3" cy="137.0" r="2.25"/><circle cx="702.4" cy="136.3" r="2.25"/><circle cx="704.3" cy="136.2" r="2.25"/><circle cx="705.5" cy="136.3" r="2.25"/><circle cx="707.6" cy="136.4" r="2.25"/><circle cx="709.3" cy="136.1" r="2.25"/><circle cx="710.9" cy="136.3" r="2.25"/><circle cx="713.7" cy="135.9" r="2.25"/><circle cx="714.9" cy="135.6" r="2.25"/><circle cx="716.1" cy="135.7" r="2.25"/><circle cx="717.3" cy="135.7" r="2.25"/><circle cx="719.3" cy="135.5" r="2.25"/><circle cx="721.4" cy="135.3" r="2.25"/><circle cx="724.7" cy="135.5" r="2.25"/><circle cx="726.4" cy="134.9" r="2.25"/><circle cx="730.2" cy="134.7" r="2.25"/><circle cx="733.7" cy="134.8" r="2.25"/><circle cx="735.4" cy="134.7" r="2.25"/><circle cx="737.6" cy="134.5" r="2.25"/><circle cx="739.4" cy="134.5" r="2.25"/><circle cx="741.2" cy="134.3" r="2.25"/><circle cx="743.2" cy="134.1" r="2.25"/><circle cx="745.8" cy="134.4" r="2.25"/><circle cx="747.3" cy="134.2" r="2.25"/><circle cx="749.3" cy="133.7" r="2.25"/><circle cx="751.1" cy="133.7" r="2.25"/><circle cx="753.0" cy="133.7" r="2.25"/><circle cx="754.9" cy="133.9" r="2.25"/><circle cx="757.1" cy="133.3" r="2.25"/><circle cx="760.3" cy="133.1" r="2.25"/><circle cx="761.6" cy="133.1" r="2.25"/><circle cx="763.0" cy="133.1" r="2.25"/><circle cx="765.3" cy="132.4" r="2.25"/><circle cx="767.4" cy="132.2" r="2.25"/><circle cx="768.7" cy="132.4" r="2.25"/><circle cx="770.1" cy="132.3" r="2.25"/><circle cx="771.9" cy="131.7" r="2.25"/><circle cx="776.6" cy="130.9" r="2.25"/><circle cx="778.1" cy="131.1" r="2.25"/><circle cx="779.5" cy="130.9" r="2.25"/><circle cx="781.1" cy="130.5" r="2.25"/><circle cx="782.6" cy="130.4" r="2.25"/><circle cx="784.4" cy="130.4" r="2.25"/><circle cx="786.8" cy="130.4" r="2.25"/><circle cx="788.9" cy="129.8" r="2.25"/><circle cx="793.2" cy="129.5" r="2.25"/><circle cx="794.9" cy="129.4" r="2.25"/><circle cx="796.2" cy="128.9" r="2.25"/><circle cx="798.4" cy="129.1" r="2.25"/><circle cx="800.3" cy="128.5" r="2.25"/><circle cx="801.5" cy="128.2" r="2.25"/><circle cx="803.3" cy="128.5" r="2.25"/><circle cx="805.2" cy="127.8" r="2.25"/><circle cx="806.8" cy="127.8" r="2.25"/><circle cx="808.9" cy="127.3" r="2.25"/><circle cx="810.6" cy="127.3" r="2.25"/><circle cx="812.1" cy="127.1" r="2.25"/><circle cx="814.3" cy="127.2" r="2.25"/><circle cx="815.6" cy="126.8" r="2.25"/><circle cx="817.1" cy="126.8" r="2.25"/><circle cx="818.5" cy="126.7" r="2.25"/><circle cx="821.2" cy="126.7" r="2.25"/><circle cx="823.4" cy="125.9" r="2.25"/><circle cx="826.1" cy="125.4" r="2.25"/><circle cx="828.1" cy="125.3" r="2.25"/><circle cx="830.1" cy="124.8" r="2.25"/><circle cx="831.9" cy="125.0" r="2.25"/><circle cx="833.5" cy="124.2" r="2.25"/><circle cx="834.5" cy="123.9" r="2.25"/><circle cx="836.0" cy="124.2" r="2.25"/><circle cx="837.6" cy="123.7" r="2.25"/><circle cx="839.3" cy="123.3" r="2.25"/><circle cx="841.3" cy="122.8" r="2.25"/><circle cx="843.0" cy="122.7" r="2.25"/><circle cx="844.5" cy="122.0" r="2.25"/><circle cx="846.2" cy="121.9" r="2.25"/><circle cx="847.8" cy="121.6" r="2.25"/><circle cx="850.1" cy="121.4" r="2.25"/><circle cx="851.1" cy="121.4" r="2.25"/><circle cx="853.2" cy="121.1" r="2.25"/><circle cx="854.7" cy="120.4" r="2.25"/><circle cx="856.6" cy="120.3" r="2.25"/><circle cx="858.8" cy="119.5" r="2.25"/><circle cx="860.4" cy="119.2" r="2.25"/><circle cx="861.8" cy="119.1" r="2.25"/><circle cx="864.2" cy="118.3" r="2.25"/><circle cx="866.2" cy="118.6" r="2.25"/><circle cx="869.9" cy="118.0" r="2.25"/><circle cx="871.9" cy="117.7" r="2.25"/><circle cx="874.0" cy="117.2" r="2.25"/><circle cx="875.5" cy="117.2" r="2.25"/><circle cx="877.5" cy="116.6" r="2.25"/><circle cx="878.6" cy="116.2" r="2.25"/><circle cx="880.4" cy="116.1" r="2.25"/><circle cx="881.8" cy="115.3" r="2.25"/><circle cx="882.9" cy="115.3" r="2.25"/><circle cx="884.5" cy="114.6" r="2.25"/><circle cx="886.8" cy="114.3" r="2.25"/><circle cx="888.1" cy="113.6" r="2.25"/><circle cx="889.0" cy="113.7" r="2.25"/><circle cx="891.5" cy="112.7" r="2.25"/><circle cx="893.2" cy="112.0" r="2.25"/><circle cx="895.4" cy="111.2" r="2.25"/><circle cx="896.4" cy="110.6" r="2.25"/></g><g fill="#000"><circle cx="896.1" cy="110.2" r="2.6"/><circle cx="897.7" cy="109.4" r="2.6"/><circle cx="898.6" cy="108.3" r="2.6"/><circle cx="900.4" cy="107.6" r="2.6"/><circle cx="901.3" cy="106.3" r="2.6"/><circle cx="902.9" cy="105.6" r="2.6"/><circle cx="904.4" cy="104.7" r="2.6"/><circle cx="906.2" cy="104.4" r="2.6"/><circle cx="907.9" cy="103.8" r="2.6"/><circle cx="910.0" cy="103.0" r="2.6"/><circle cx="911.9" cy="102.7" r="2.6"/><circle cx="913.2" cy="102.4" r="2.6"/><circle cx="914.8" cy="102.4" r="2.6"/><circle cx="916.6" cy="102.8" r="2.6"/><circle cx="918.0" cy="102.5" r="2.6"/><circle cx="920.0" cy="102.5" r="2.6"/><circle cx="921.3" cy="102.9" r="2.6"/><circle cx="923.1" cy="102.7" r="2.6"/><circle cx="924.6" cy="102.9" r="2.6"/><circle cx="926.5" cy="103.3" r="2.6"/><circle cx="928.2" cy="103.3" r="2.6"/><circle cx="929.6" cy="103.7" r="2.6"/><circle cx="931.5" cy="103.6" r="2.6"/><circle cx="933.3" cy="104.0" r="2.6"/><circle cx="935.5" cy="104.8" r="2.6"/><circle cx="937.2" cy="104.9" r="2.6"/><circle cx="938.8" cy="105.6" r="2.6"/><circle cx="939.9" cy="106.5" r="2.6"/><circle cx="941.6" cy="107.6" r="2.6"/><circle cx="942.8" cy="108.8" r="2.6"/><circle cx="943.7" cy="110.3" r="2.6"/><circle cx="944.5" cy="111.3" r="2.6"/><circle cx="945.9" cy="112.9" r="2.6"/><circle cx="946.2" cy="114.4" r="2.6"/><circle cx="946.8" cy="116.1" r="2.6"/><circle cx="946.9" cy="117.7" r="2.6"/></g><g fill="#000"><circle cx="947.2" cy="118.0" r="2.25"/><circle cx="946.7" cy="119.7" r="2.25"/><circle cx="945.8" cy="121.4" r="2.25"/><circle cx="945.7" cy="123.0" r="2.25"/><circle cx="944.8" cy="124.2" r="2.25"/><circle cx="944.4" cy="126.1" r="2.25"/><circle cx="943.7" cy="127.5" r="2.25"/><circle cx="943.1" cy="128.4" r="2.25"/><circle cx="942.0" cy="131.3" r="2.25"/><circle cx="941.0" cy="133.1" r="2.25"/><circle cx="940.7" cy="135.3" r="2.25"/><circle cx="940.3" cy="137.0" r="2.25"/><circle cx="940.2" cy="139.2" r="2.25"/><circle cx="940.5" cy="140.1" r="2.25"/><circle cx="941.5" cy="141.5" r="2.25"/><circle cx="942.3" cy="143.4" r="2.25"/><circle cx="943.0" cy="144.3" r="2.25"/><circle cx="943.7" cy="145.3" r="2.25"/><circle cx="945.5" cy="147.9" r="2.25"/><circle cx="946.2" cy="149.3" r="2.25"/><circle cx="947.3" cy="150.2" r="2.25"/><circle cx="948.0" cy="151.3" r="2.25"/><circle cx="949.3" cy="152.3" r="2.25"/><circle cx="950.6" cy="154.0" r="2.25"/><circle cx="951.7" cy="154.9" r="2.25"/><circle cx="953.7" cy="156.6" r="2.25"/><circle cx="954.8" cy="157.3" r="2.25"/><circle cx="956.0" cy="158.3" r="2.25"/><circle cx="957.9" cy="159.0" r="2.25"/><circle cx="959.8" cy="160.1" r="2.25"/><circle cx="963.4" cy="161.8" r="2.25"/><circle cx="964.7" cy="162.4" r="2.25"/><circle cx="966.2" cy="162.2" r="2.25"/><circle cx="968.1" cy="162.8" r="2.25"/><circle cx="969.7" cy="162.9" r="2.25"/><circle cx="970.9" cy="163.3" r="2.25"/><circle cx="974.7" cy="163.3" r="2.25"/><circle cx="976.8" cy="163.8" r="2.25"/><circle cx="979.0" cy="163.8" r="2.25"/><circle cx="983.5" cy="164.2" r="2.25"/><circle cx="984.9" cy="164.5" r="2.25"/><circle cx="986.4" cy="164.5" r="2.25"/><circle cx="988.0" cy="164.6" r="2.25"/><circle cx="989.9" cy="165.4" r="2.25"/><circle cx="992.2" cy="165.5" r="2.25"/><circle cx="993.6" cy="165.9" r="2.25"/><circle cx="995.1" cy="166.1" r="2.25"/><circle cx="996.4" cy="166.2" r="2.25"/><circle cx="998.0" cy="166.3" r="2.25"/><circle cx="1000.1" cy="166.5" r="2.25"/><circle cx="1001.9" cy="166.7" r="2.25"/><circle cx="1003.8" cy="166.9" r="2.25"/><circle cx="1006.3" cy="166.7" r="2.25"/><circle cx="1009.9" cy="166.5" r="2.25"/><circle cx="1012.1" cy="166.2" r="2.25"/><circle cx="1016.0" cy="166.6" r="2.25"/><circle cx="1017.4" cy="166.4" r="2.25"/><circle cx="1018.8" cy="166.2" r="2.25"/><circle cx="1021.0" cy="166.0" r="2.25"/><circle cx="1022.2" cy="165.4" r="2.25"/><circle cx="1023.5" cy="164.7" r="2.25"/><circle cx="1026.1" cy="165.4" r="2.25"/><circle cx="1028.0" cy="166.5" r="2.25"/><circle cx="1030.1" cy="166.2" r="2.25"/><circle cx="1032.1" cy="165.6" r="2.25"/><circle cx="1033.1" cy="165.3" r="2.25"/><circle cx="1034.9" cy="164.6" r="2.25"/><circle cx="1036.7" cy="165.4" r="2.25"/><circle cx="1038.3" cy="166.1" r="2.25"/><circle cx="1039.6" cy="167.0" r="2.25"/><circle cx="1041.7" cy="166.9" r="2.25"/><circle cx="1043.5" cy="167.1" r="2.25"/><circle cx="1045.4" cy="167.4" r="2.25"/><circle cx="1046.7" cy="167.4" r="2.25"/><circle cx="1048.5" cy="167.1" r="2.25"/><circle cx="1050.1" cy="167.4" r="2.25"/><circle cx="1051.7" cy="166.9" r="2.25"/><circle cx="1052.8" cy="167.1" r="2.25"/><circle cx="1054.3" cy="167.4" r="2.25"/><circle cx="1056.4" cy="167.0" r="2.25"/><circle cx="1058.0" cy="167.1" r="2.25"/><circle cx="1062.1" cy="167.1" r="2.25"/><circle cx="1063.9" cy="166.9" r="2.25"/><circle cx="1066.4" cy="166.6" r="2.25"/><circle cx="1068.5" cy="166.6" r="2.25"/><circle cx="1070.2" cy="166.3" r="2.25"/><circle cx="1071.3" cy="166.3" r="2.25"/><circle cx="1073.4" cy="166.3" r="2.25"/><circle cx="1077.4" cy="165.7" r="2.25"/><circle cx="1079.5" cy="164.9" r="2.25"/><circle cx="1081.1" cy="165.3" r="2.25"/><circle cx="1084.7" cy="166.4" r="2.25"/><circle cx="1085.7" cy="165.9" r="2.25"/><circle cx="1087.4" cy="164.7" r="2.25"/><circle cx="1089.1" cy="164.9" r="2.25"/><circle cx="1091.2" cy="165.8" r="2.25"/><circle cx="1092.8" cy="166.8" r="2.25"/><circle cx="1095.3" cy="166.3" r="2.25"/><circle cx="1097.5" cy="166.4" r="2.25"/><circle cx="1099.0" cy="166.8" r="2.25"/><circle cx="1100.5" cy="166.6" r="2.25"/><circle cx="1102.1" cy="166.8" r="2.25"/><circle cx="1103.3" cy="167.1" r="2.25"/><circle cx="1105.6" cy="166.8" r="2.25"/><circle cx="1107.4" cy="166.8" r="2.25"/><circle cx="1108.9" cy="167.1" r="2.25"/><circle cx="1110.4" cy="166.9" r="2.25"/><circle cx="1112.4" cy="166.2" r="2.25"/><circle cx="1114.0" cy="165.1" r="2.25"/><circle cx="1116.2" cy="164.8" r="2.25"/><circle cx="1118.1" cy="165.2" r="2.25"/><circle cx="1119.3" cy="165.7" r="2.25"/><circle cx="1121.5" cy="165.8" r="2.25"/><circle cx="1123.0" cy="165.3" r="2.25"/><circle cx="1124.3" cy="164.8" r="2.25"/><circle cx="1126.6" cy="164.7" r="2.25"/><circle cx="1128.1" cy="165.7" r="2.25"/><circle cx="1129.6" cy="166.0" r="2.25"/><circle cx="1131.2" cy="166.0" r="2.25"/><circle cx="1133.2" cy="164.7" r="2.25"/><circle cx="1135.7" cy="165.1" r="2.25"/><circle cx="1137.4" cy="166.1" r="2.25"/><circle cx="1139.9" cy="167.3" r="2.25"/><circle cx="1141.6" cy="167.2" r="2.25"/><circle cx="1143.3" cy="167.2" r="2.25"/><circle cx="1144.8" cy="167.8" r="2.25"/><circle cx="1146.5" cy="168.5" r="2.25"/><circle cx="1148.1" cy="168.6" r="2.25"/><circle cx="1149.7" cy="170.2" r="2.25"/><circle cx="1150.4" cy="171.0" r="2.25"/><circle cx="1152.4" cy="171.9" r="2.25"/><circle cx="1155.7" cy="171.5" r="2.25"/><circle cx="1157.9" cy="170.6" r="2.25"/><circle cx="1159.0" cy="169.2" r="2.25"/><circle cx="1159.9" cy="168.3" r="2.25"/><circle cx="1160.9" cy="166.6" r="2.25"/><circle cx="1161.7" cy="165.9" r="2.25"/><circle cx="1162.8" cy="165.0" r="2.25"/><circle cx="1164.2" cy="164.2" r="2.25"/><circle cx="1166.2" cy="163.7" r="2.25"/><circle cx="1167.2" cy="164.0" r="2.25"/><circle cx="1169.4" cy="164.5" r="2.25"/><circle cx="1170.9" cy="164.7" r="2.25"/><circle cx="1175.2" cy="165.9" r="2.25"/><circle cx="1176.6" cy="166.0" r="2.25"/><circle cx="1177.7" cy="165.7" r="2.25"/><circle cx="1179.9" cy="166.4" r="2.25"/><circle cx="1181.1" cy="165.9" r="2.25"/><circle cx="1182.8" cy="165.9" r="2.25"/><circle cx="1185.0" cy="165.6" r="2.25"/><circle cx="1188.8" cy="165.2" r="2.25"/><circle cx="1190.8" cy="165.6" r="2.25"/><circle cx="1192.2" cy="165.9" r="2.25"/><circle cx="1194.0" cy="166.0" r="2.25"/><circle cx="1195.7" cy="166.6" r="2.25"/><circle cx="1197.3" cy="167.4" r="2.25"/><circle cx="1198.8" cy="167.9" r="2.25"/><circle cx="1200.6" cy="168.1" r="2.25"/><circle cx="1202.4" cy="168.1" r="2.25"/><circle cx="1204.5" cy="168.2" r="2.25"/><circle cx="1206.5" cy="168.4" r="2.25"/><circle cx="1208.0" cy="168.2" r="2.25"/><circle cx="1210.4" cy="167.9" r="2.25"/><circle cx="1211.9" cy="167.7" r="2.25"/><circle cx="1214.3" cy="167.6" r="2.25"/><circle cx="1216.7" cy="167.4" r="2.25"/><circle cx="1219.0" cy="167.2" r="2.25"/><circle cx="1220.8" cy="166.9" r="2.25"/><circle cx="1222.2" cy="166.9" r="2.25"/><circle cx="1224.4" cy="167.0" r="2.25"/><circle cx="1226.4" cy="166.6" r="2.25"/><circle cx="1228.0" cy="166.2" r="2.25"/><circle cx="1229.7" cy="166.4" r="2.25"/></g><g fill="#00dc00" stroke="#007a00" stroke-width="0.55"><circle cx="756.7" cy="130.4" r="1.95"/><circle cx="758.1" cy="129.9" r="1.95"/><circle cx="759.6" cy="129.4" r="1.95"/><circle cx="761.3" cy="128.9" r="1.95"/><circle cx="762.8" cy="128.5" r="1.95"/><circle cx="764.9" cy="128.5" r="1.95"/><circle cx="766.4" cy="128.2" r="1.95"/><circle cx="767.9" cy="127.8" r="1.95"/><circle cx="770.0" cy="127.1" r="1.95"/><circle cx="771.8" cy="127.3" r="1.95"/><circle cx="773.3" cy="126.8" r="1.95"/><circle cx="775.1" cy="126.5" r="1.95"/><circle cx="776.4" cy="126.3" r="1.95"/><circle cx="778.6" cy="126.1" r="1.95"/><circle cx="780.0" cy="126.0" r="1.95"/><circle cx="781.8" cy="125.4" r="1.95"/><circle cx="783.5" cy="125.2" r="1.95"/><circle cx="785.2" cy="125.3" r="1.95"/><circle cx="786.6" cy="124.9" r="1.95"/><circle cx="788.4" cy="124.6" r="1.95"/><circle cx="790.2" cy="124.7" r="1.95"/><circle cx="791.6" cy="124.4" r="1.95"/><circle cx="793.6" cy="124.1" r="1.95"/><circle cx="795.4" cy="123.9" r="1.95"/><circle cx="797.1" cy="123.6" r="1.95"/><circle cx="799.0" cy="123.2" r="1.95"/><circle cx="800.8" cy="122.9" r="1.95"/><circle cx="802.4" cy="123.0" r="1.95"/><circle cx="804.2" cy="122.5" r="1.95"/><circle cx="806.0" cy="122.4" r="1.95"/><circle cx="808.2" cy="121.7" r="1.95"/><circle cx="809.9" cy="121.7" r="1.95"/><circle cx="811.2" cy="121.0" r="1.95"/><circle cx="813.0" cy="120.6" r="1.95"/><circle cx="814.9" cy="120.4" r="1.95"/><circle cx="816.6" cy="119.8" r="1.95"/><circle cx="818.4" cy="120.0" r="1.95"/><circle cx="820.1" cy="119.6" r="1.95"/><circle cx="821.8" cy="119.4" r="1.95"/><circle cx="823.8" cy="119.3" r="1.95"/><circle cx="825.3" cy="118.9" r="1.95"/><circle cx="827.1" cy="118.5" r="1.95"/><circle cx="828.7" cy="118.6" r="1.95"/><circle cx="830.3" cy="118.2" r="1.95"/><circle cx="831.8" cy="118.2" r="1.95"/><circle cx="833.9" cy="117.9" r="1.95"/><circle cx="835.5" cy="117.5" r="1.95"/><circle cx="837.2" cy="117.5" r="1.95"/><circle cx="839.0" cy="117.5" r="1.95"/><circle cx="840.7" cy="117.4" r="1.95"/><circle cx="842.4" cy="116.8" r="1.95"/><circle cx="844.1" cy="116.6" r="1.95"/><circle cx="846.3" cy="116.5" r="1.95"/><circle cx="848.0" cy="115.9" r="1.95"/><circle cx="849.4" cy="115.5" r="1.95"/><circle cx="851.4" cy="115.1" r="1.95"/><circle cx="853.1" cy="115.0" r="1.95"/><circle cx="854.9" cy="115.1" r="1.95"/><circle cx="856.3" cy="114.7" r="1.95"/><circle cx="858.4" cy="114.9" r="1.95"/><circle cx="860.0" cy="114.8" r="1.95"/><circle cx="861.4" cy="114.3" r="1.95"/><circle cx="863.3" cy="113.8" r="1.95"/><circle cx="864.8" cy="114.0" r="1.95"/><circle cx="866.3" cy="113.3" r="1.95"/><circle cx="868.1" cy="113.4" r="1.95"/><circle cx="869.7" cy="113.0" r="1.95"/><circle cx="871.6" cy="112.5" r="1.95"/><circle cx="873.7" cy="112.2" r="1.95"/><circle cx="875.6" cy="112.1" r="1.95"/><circle cx="877.0" cy="111.7" r="1.95"/><circle cx="878.7" cy="111.3" r="1.95"/><circle cx="880.4" cy="110.9" r="1.95"/><circle cx="882.3" cy="110.6" r="1.95"/><circle cx="884.2" cy="110.5" r="1.95"/><circle cx="885.4" cy="110.0" r="1.95"/><circle cx="887.7" cy="109.9" r="1.95"/><circle cx="889.3" cy="109.8" r="1.95"/><circle cx="891.0" cy="109.4" r="1.95"/><circle cx="892.6" cy="109.6" r="1.95"/><circle cx="894.3" cy="109.5" r="1.95"/><circle cx="896.2" cy="109.4" r="1.95"/><circle cx="897.5" cy="109.2" r="1.95"/><circle cx="899.3" cy="108.6" r="1.95"/><circle cx="901.1" cy="108.6" r="1.95"/><circle cx="902.5" cy="108.6" r="1.95"/><circle cx="904.4" cy="108.6" r="1.95"/><circle cx="906.5" cy="109.3" r="1.95"/><circle cx="908.0" cy="109.6" r="1.95"/><circle cx="909.8" cy="109.4" r="1.95"/><circle cx="912.1" cy="109.7" r="1.95"/><circle cx="913.5" cy="109.9" r="1.95"/><circle cx="915.3" cy="110.3" r="1.95"/><circle cx="917.1" cy="110.6" r="1.95"/><circle cx="918.6" cy="111.4" r="1.95"/><circle cx="920.4" cy="111.5" r="1.95"/><circle cx="921.7" cy="112.2" r="1.95"/><circle cx="923.3" cy="112.3" r="1.95"/><circle cx="925.1" cy="112.8" r="1.95"/><circle cx="926.9" cy="113.3" r="1.95"/><circle cx="928.7" cy="113.6" r="1.95"/><circle cx="930.1" cy="113.9" r="1.95"/><circle cx="932.1" cy="114.5" r="1.95"/><circle cx="933.8" cy="115.1" r="1.95"/><circle cx="935.3" cy="115.6" r="1.95"/><circle cx="937.3" cy="115.9" r="1.95"/><circle cx="938.9" cy="116.4" r="1.95"/><circle cx="940.0" cy="117.6" r="1.95"/><circle cx="942.0" cy="118.2" r="1.95"/><circle cx="943.0" cy="119.3" r="1.95"/><circle cx="944.2" cy="120.8" r="1.95"/><circle cx="944.4" cy="122.7" r="1.95"/><circle cx="943.5" cy="124.2" r="1.95"/><circle cx="942.3" cy="125.4" r="1.95"/><circle cx="941.0" cy="126.3" r="1.95"/><circle cx="940.0" cy="127.2" r="1.95"/><circle cx="938.9" cy="128.8" r="1.95"/><circle cx="937.5" cy="129.9" r="1.95"/><circle cx="936.5" cy="131.3" r="1.95"/><circle cx="936.2" cy="132.7" r="1.95"/><circle cx="936.1" cy="134.4" r="1.95"/><circle cx="935.7" cy="136.1" r="1.95"/><circle cx="935.7" cy="138.4" r="1.95"/><circle cx="936.0" cy="140.2" r="1.95"/><circle cx="936.7" cy="141.7" r="1.95"/><circle cx="937.1" cy="143.5" r="1.95"/><circle cx="938.6" cy="144.6" r="1.95"/><circle cx="939.0" cy="146.5" r="1.95"/><circle cx="940.3" cy="147.6" r="1.95"/><circle cx="941.1" cy="149.1" r="1.95"/><circle cx="942.7" cy="150.3" r="1.95"/><circle cx="943.7" cy="151.7" r="1.95"/><circle cx="944.8" cy="153.0" r="1.95"/><circle cx="945.9" cy="154.1" r="1.95"/><circle cx="947.4" cy="155.7" r="1.95"/><circle cx="948.5" cy="156.4" r="1.95"/><circle cx="950.1" cy="157.2" r="1.95"/><circle cx="951.3" cy="158.1" r="1.95"/><circle cx="953.2" cy="158.7" r="1.95"/><circle cx="954.5" cy="159.3" r="1.95"/><circle cx="956.6" cy="159.3" r="1.95"/><circle cx="958.2" cy="160.4" r="1.95"/><circle cx="959.6" cy="161.0" r="1.95"/><circle cx="961.6" cy="161.6" r="1.95"/><circle cx="963.0" cy="162.0" r="1.95"/><circle cx="964.5" cy="162.8" r="1.95"/><circle cx="966.0" cy="163.3" r="1.95"/><circle cx="968.0" cy="164.0" r="1.95"/><circle cx="969.9" cy="164.3" r="1.95"/><circle cx="971.4" cy="164.8" r="1.95"/><circle cx="973.1" cy="164.9" r="1.95"/><circle cx="974.6" cy="165.3" r="1.95"/><circle cx="976.5" cy="165.4" r="1.95"/><circle cx="978.1" cy="165.4" r="1.95"/><circle cx="980.0" cy="165.6" r="1.95"/><circle cx="981.4" cy="166.1" r="1.95"/><circle cx="983.2" cy="166.3" r="1.95"/><circle cx="985.3" cy="166.2" r="1.95"/><circle cx="987.2" cy="166.6" r="1.95"/><circle cx="989.2" cy="167.0" r="1.95"/><circle cx="990.8" cy="166.9" r="1.95"/><circle cx="992.7" cy="166.8" r="1.95"/><circle cx="994.5" cy="166.7" r="1.95"/><circle cx="996.1" cy="167.0" r="1.95"/><circle cx="998.2" cy="166.8" r="1.95"/><circle cx="1000.0" cy="166.5" r="1.95"/><circle cx="1001.4" cy="166.8" r="1.95"/><circle cx="1003.2" cy="167.0" r="1.95"/><circle cx="1004.7" cy="167.2" r="1.95"/><circle cx="1006.4" cy="167.1" r="1.95"/><circle cx="1008.1" cy="167.5" r="1.95"/><circle cx="1009.7" cy="167.7" r="1.95"/><circle cx="1011.7" cy="167.4" r="1.95"/><circle cx="1013.5" cy="167.6" r="1.95"/><circle cx="1015.2" cy="167.8" r="1.95"/><circle cx="1017.3" cy="167.8" r="1.95"/><circle cx="1019.1" cy="167.9" r="1.95"/><circle cx="1020.3" cy="167.8" r="1.95"/><circle cx="1022.1" cy="167.9" r="1.95"/><circle cx="1023.7" cy="168.0" r="1.95"/><circle cx="1025.6" cy="168.2" r="1.95"/><circle cx="1027.4" cy="168.2" r="1.95"/><circle cx="1028.8" cy="168.3" r="1.95"/><circle cx="1030.7" cy="167.7" r="1.95"/><circle cx="1032.6" cy="167.6" r="1.95"/><circle cx="1034.9" cy="167.3" r="1.95"/><circle cx="1036.8" cy="167.2" r="1.95"/><circle cx="1038.5" cy="167.7" r="1.95"/><circle cx="1039.7" cy="167.5" r="1.95"/><circle cx="1041.4" cy="167.9" r="1.95"/><circle cx="1043.2" cy="168.3" r="1.95"/><circle cx="1044.8" cy="168.3" r="1.95"/><circle cx="1046.6" cy="167.8" r="1.95"/><circle cx="1048.5" cy="168.1" r="1.95"/><circle cx="1049.8" cy="167.9" r="1.95"/><circle cx="1051.4" cy="167.7" r="1.95"/><circle cx="1053.4" cy="167.9" r="1.95"/><circle cx="1055.0" cy="167.8" r="1.95"/><circle cx="1057.3" cy="167.9" r="1.95"/><circle cx="1058.8" cy="167.9" r="1.95"/><circle cx="1060.3" cy="168.3" r="1.95"/><circle cx="1062.3" cy="168.4" r="1.95"/><circle cx="1064.0" cy="168.1" r="1.95"/><circle cx="1066.0" cy="168.3" r="1.95"/><circle cx="1067.5" cy="168.2" r="1.95"/><circle cx="1069.4" cy="168.3" r="1.95"/><circle cx="1071.3" cy="168.2" r="1.95"/><circle cx="1072.8" cy="167.8" r="1.95"/><circle cx="1074.5" cy="168.0" r="1.95"/><circle cx="1076.6" cy="168.0" r="1.95"/><circle cx="1078.2" cy="168.2" r="1.95"/><circle cx="1080.1" cy="168.0" r="1.95"/><circle cx="1082.2" cy="168.1" r="1.95"/><circle cx="1083.5" cy="167.9" r="1.95"/><circle cx="1085.5" cy="167.6" r="1.95"/><circle cx="1087.2" cy="167.9" r="1.95"/><circle cx="1088.6" cy="167.7" r="1.95"/><circle cx="1090.7" cy="168.0" r="1.95"/><circle cx="1092.1" cy="167.7" r="1.95"/><circle cx="1094.0" cy="168.4" r="1.95"/><circle cx="1095.5" cy="168.1" r="1.95"/><circle cx="1097.0" cy="168.6" r="1.95"/><circle cx="1098.9" cy="168.6" r="1.95"/><circle cx="1100.7" cy="167.9" r="1.95"/><circle cx="1102.4" cy="168.4" r="1.95"/><circle cx="1104.7" cy="168.2" r="1.95"/><circle cx="1106.1" cy="167.8" r="1.95"/><circle cx="1107.9" cy="167.7" r="1.95"/><circle cx="1109.7" cy="168.1" r="1.95"/><circle cx="1111.3" cy="168.2" r="1.95"/><circle cx="1112.7" cy="168.5" r="1.95"/><circle cx="1114.2" cy="168.3" r="1.95"/><circle cx="1116.2" cy="168.3" r="1.95"/><circle cx="1118.2" cy="168.1" r="1.95"/><circle cx="1119.8" cy="167.8" r="1.95"/><circle cx="1121.5" cy="167.8" r="1.95"/><circle cx="1123.3" cy="167.7" r="1.95"/><circle cx="1125.7" cy="167.8" r="1.95"/><circle cx="1127.2" cy="168.0" r="1.95"/><circle cx="1129.3" cy="167.9" r="1.95"/><circle cx="1130.7" cy="167.9" r="1.95"/><circle cx="1132.8" cy="167.7" r="1.95"/><circle cx="1134.2" cy="167.5" r="1.95"/><circle cx="1135.8" cy="167.7" r="1.95"/><circle cx="1137.5" cy="167.8" r="1.95"/><circle cx="1139.3" cy="167.7" r="1.95"/><circle cx="1140.5" cy="167.7" r="1.95"/><circle cx="1142.7" cy="167.7" r="1.95"/><circle cx="1144.3" cy="167.9" r="1.95"/><circle cx="1146.0" cy="168.4" r="1.95"/><circle cx="1148.0" cy="168.5" r="1.95"/><circle cx="1149.9" cy="168.6" r="1.95"/><circle cx="1151.4" cy="168.3" r="1.95"/><circle cx="1153.2" cy="168.6" r="1.95"/><circle cx="1154.9" cy="168.6" r="1.95"/><circle cx="1156.5" cy="168.4" r="1.95"/><circle cx="1158.7" cy="168.9" r="1.95"/><circle cx="1160.3" cy="168.9" r="1.95"/><circle cx="1162.0" cy="168.3" r="1.95"/><circle cx="1163.4" cy="168.5" r="1.95"/><circle cx="1165.5" cy="168.2" r="1.95"/><circle cx="1167.0" cy="168.2" r="1.95"/><circle cx="1168.6" cy="168.3" r="1.95"/><circle cx="1170.7" cy="168.7" r="1.95"/><circle cx="1172.8" cy="168.3" r="1.95"/><circle cx="1174.8" cy="168.2" r="1.95"/><circle cx="1176.1" cy="168.4" r="1.95"/></g></g><g stroke="#222" stroke-width="1" fill="none" shape-rendering="auto"><path d="M686.5 14.5H1231.5V227.5H686.5Z" stroke-width="1.1"/><path d="M686.5 197.46h4.8M686.5 167.20h4.8M686.5 136.94h4.8M686.5 106.68h4.8M686.5 76.42h4.8M686.5 46.16h4.8M686.5 15.90h4.8M686.50 227.5v-4.8M746.90 227.5v-4.8M807.30 227.5v-4.8M867.70 227.5v-4.8M928.10 227.5v-4.8M988.50 227.5v-4.8M1048.90 227.5v-4.8M1109.30 227.5v-4.8M1169.70 227.5v-4.8M1230.10 227.5v-4.8" stroke-width="1"/><path d="M686.5 221.67h3M686.5 215.62h3M686.5 209.56h3M686.5 203.51h3M686.5 191.41h3M686.5 185.36h3M686.5 179.30h3M686.5 173.25h3M686.5 161.15h3M686.5 155.10h3M686.5 149.04h3M686.5 142.99h3M686.5 130.89h3M686.5 124.84h3M686.5 118.78h3M686.5 112.73h3M686.5 100.63h3M686.5 94.58h3M686.5 88.52h3M686.5 82.47h3M686.5 70.37h3M686.5 64.32h3M686.5 58.26h3M686.5 52.21h3M686.5 40.11h3M686.5 34.06h3M686.5 28.00h3M686.5 21.95h3M698.58 227.5v-3M710.66 227.5v-3M722.74 227.5v-3M734.82 227.5v-3M758.98 227.5v-3M771.06 227.5v-3M783.14 227.5v-3M795.22 227.5v-3M819.38 227.5v-3M831.46 227.5v-3M843.54 227.5v-3M855.62 227.5v-3M879.78 227.5v-3M891.86 227.5v-3M903.94 227.5v-3M916.02 227.5v-3M940.18 227.5v-3M952.26 227.5v-3M964.34 227.5v-3M976.42 227.5v-3M1000.58 227.5v-3M1012.66 227.5v-3M1024.74 227.5v-3M1036.82 227.5v-3M1060.98 227.5v-3M1073.06 227.5v-3M1085.14 227.5v-3M1097.22 227.5v-3M1121.38 227.5v-3M1133.46 227.5v-3M1145.54 227.5v-3M1157.62 227.5v-3M1181.78 227.5v-3M1193.86 227.5v-3M1205.94 227.5v-3M1218.02 227.5v-3" stroke="#bdbdbd" stroke-width="0.9"/></g><g font-family="Liberation Sans, sans-serif" font-size="14.4" fill="#111"><text x="679.5" y="20.8" text-anchor="end">1.25</text><text x="679.5" y="51.1" text-anchor="end">1</text><text x="679.5" y="81.3" text-anchor="end">0.75</text><text x="679.5" y="111.6" text-anchor="end">0.5</text><text x="679.5" y="141.8" text-anchor="end">0.25</text><text x="679.5" y="172.1" text-anchor="end">0</text><text x="679.5" y="202.4" text-anchor="end">-0.25</text><text x="686.5" y="239.9" text-anchor="middle">10.5</text><text x="746.9" y="239.9" text-anchor="middle">11</text><text x="807.3" y="239.9" text-anchor="middle">11.5</text><text x="867.7" y="239.9" text-anchor="middle">12</text><text x="928.1" y="239.9" text-anchor="middle">12.5</text><text x="988.5" y="239.9" text-anchor="middle">13</text><text x="1048.9" y="239.9" text-anchor="middle">13.5</text><text x="1109.3" y="239.9" text-anchor="middle">14</text><text x="1169.7" y="239.9" text-anchor="middle">14.5</text><text x="1230.1" y="239.9" text-anchor="middle">15</text></g><g font-family="Liberation Sans, sans-serif" font-size="14.4" font-weight="bold" fill="#111"><text transform="translate(662 121.5) rotate(-90)" text-anchor="middle">Y</text><text x="959" y="246.5" text-anchor="middle">X</text></g></g><g id="panel-c"><clipPath id="clip-c"><rect x="45" y="299.5" width="545.5" height="213.0"/></clipPath><path d="M45 489L589.5 452.5" stroke="#111" stroke-width="1" fill="none"/><g clip-path="url(#clip-c)"><g fill="#f00000"><circle cx="233.5" cy="414.0" r="2.35"/><circle cx="247.0" cy="412.5" r="2.35"/><circle cx="260.5" cy="410.5" r="2.35"/><circle cx="273.5" cy="409.0" r="2.35"/><circle cx="281.0" cy="407.5" r="2.35"/><circle cx="288.5" cy="406.5" r="2.35"/><circle cx="295.5" cy="405.5" r="2.35"/><circle cx="303.5" cy="404.0" r="2.35"/><circle cx="318.0" cy="401.0" r="2.35"/><circle cx="342.0" cy="394.5" r="2.35"/><circle cx="357.0" cy="393.0" r="2.35"/><circle cx="364.7" cy="392.2" r="2.35"/><circle cx="379.2" cy="394.5" r="2.35"/><circle cx="385.5" cy="396.0" r="2.35"/><circle cx="391.2" cy="398.8" r="2.35"/><circle cx="396.5" cy="402.0" r="2.35"/><circle cx="384.5" cy="410.2" r="2.35"/><circle cx="389.0" cy="409.5" r="2.35"/><circle cx="400.5" cy="412.5" r="2.35"/><circle cx="403.0" cy="414.5" r="2.35"/><circle cx="380.0" cy="436.5" r="2.35"/><circle cx="391.0" cy="450.5" r="2.35"/><circle cx="395.5" cy="452.0" r="2.35"/><circle cx="403.5" cy="453.5" r="2.35"/><circle cx="409.5" cy="453.2" r="2.35"/><circle cx="415.5" cy="453.5" r="2.35"/><circle cx="432.5" cy="454.0" r="2.35"/><circle cx="446.5" cy="454.0" r="2.35"/><circle cx="461.5" cy="454.5" r="2.35"/></g><g fill="#2424f4"><circle cx="144.0" cy="418.8" r="2.35"/><circle cx="244.0" cy="412.8" r="2.35"/><circle cx="256.0" cy="411.2" r="2.35"/><circle cx="270.5" cy="409.0" r="2.35"/><circle cx="284.0" cy="407.0" r="2.35"/><circle cx="298.0" cy="404.5" r="2.35"/><circle cx="310.0" cy="402.5" r="2.35"/><circle cx="349.5" cy="394.5" r="2.35"/><circle cx="361.0" cy="393.2" r="2.35"/><circle cx="369.0" cy="392.8" r="2.35"/><circle cx="375.5" cy="395.5" r="2.35"/><circle cx="381.2" cy="396.5" r="2.35"/><circle cx="387.0" cy="398.0" r="2.35"/><circle cx="392.8" cy="401.2" r="2.35"/><circle cx="402.5" cy="409.0" r="2.35"/><circle cx="406.0" cy="413.5" r="2.35"/><circle cx="409.0" cy="416.5" r="2.35"/><circle cx="410.0" cy="418.5" r="2.35"/><circle cx="408.0" cy="420.0" r="2.35"/><circle cx="404.5" cy="419.5" r="2.35"/><circle cx="401.5" cy="418.0" r="2.35"/><circle cx="406.5" cy="416.5" r="2.35"/><circle cx="403.0" cy="415.0" r="2.35"/><circle cx="378.0" cy="414.5" r="2.35"/><circle cx="375.0" cy="418.0" r="2.35"/><circle cx="373.0" cy="422.5" r="2.35"/><circle cx="372.5" cy="427.0" r="2.35"/><circle cx="381.5" cy="412.5" r="2.35"/><circle cx="392.0" cy="414.5" r="2.35"/><circle cx="382.0" cy="440.5" r="2.35"/><circle cx="388.5" cy="444.5" r="2.35"/><circle cx="412.5" cy="453.0" r="2.35"/></g><g fill="#000"><circle cx="45.2" cy="427.3" r="2.25"/><circle cx="46.9" cy="427.6" r="2.25"/><circle cx="49.6" cy="427.4" r="2.25"/><circle cx="51.5" cy="427.0" r="2.25"/><circle cx="53.4" cy="427.2" r="2.25"/><circle cx="55.8" cy="426.7" r="2.25"/><circle cx="57.7" cy="426.7" r="2.25"/><circle cx="59.5" cy="426.4" r="2.25"/><circle cx="63.0" cy="425.7" r="2.25"/><circle cx="64.5" cy="425.6" r="2.25"/><circle cx="67.3" cy="425.4" r="2.25"/><circle cx="69.2" cy="425.7" r="2.25"/><circle cx="70.5" cy="425.4" r="2.25"/><circle cx="72.4" cy="425.5" r="2.25"/><circle cx="74.3" cy="425.7" r="2.25"/><circle cx="75.9" cy="425.6" r="2.25"/><circle cx="77.3" cy="425.4" r="2.25"/><circle cx="79.1" cy="425.6" r="2.25"/><circle cx="80.8" cy="425.5" r="2.25"/><circle cx="82.7" cy="425.1" r="2.25"/><circle cx="84.3" cy="425.2" r="2.25"/><circle cx="85.8" cy="425.0" r="2.25"/><circle cx="86.9" cy="425.2" r="2.25"/><circle cx="88.8" cy="424.7" r="2.25"/><circle cx="90.9" cy="424.9" r="2.25"/><circle cx="92.9" cy="424.4" r="2.25"/><circle cx="95.1" cy="424.8" r="2.25"/><circle cx="97.7" cy="424.4" r="2.25"/><circle cx="100.4" cy="424.5" r="2.25"/><circle cx="102.1" cy="424.1" r="2.25"/><circle cx="103.8" cy="424.0" r="2.25"/><circle cx="105.3" cy="424.1" r="2.25"/><circle cx="108.9" cy="423.6" r="2.25"/><circle cx="111.0" cy="423.9" r="2.25"/><circle cx="112.5" cy="423.8" r="2.25"/><circle cx="114.4" cy="423.5" r="2.25"/><circle cx="116.5" cy="423.6" r="2.25"/><circle cx="118.0" cy="423.2" r="2.25"/><circle cx="119.4" cy="423.1" r="2.25"/><circle cx="121.2" cy="423.0" r="2.25"/><circle cx="122.6" cy="423.0" r="2.25"/><circle cx="124.9" cy="423.2" r="2.25"/><circle cx="126.3" cy="422.6" r="2.25"/><circle cx="128.2" cy="422.6" r="2.25"/><circle cx="129.5" cy="422.2" r="2.25"/><circle cx="131.0" cy="421.9" r="2.25"/><circle cx="134.3" cy="421.6" r="2.25"/><circle cx="136.6" cy="421.2" r="2.25"/><circle cx="138.9" cy="421.4" r="2.25"/><circle cx="141.9" cy="421.2" r="2.25"/><circle cx="143.7" cy="421.2" r="2.25"/><circle cx="146.0" cy="421.3" r="2.25"/><circle cx="150.0" cy="420.6" r="2.25"/><circle cx="151.4" cy="420.6" r="2.25"/><circle cx="152.6" cy="420.5" r="2.25"/><circle cx="155.0" cy="420.1" r="2.25"/><circle cx="156.2" cy="419.8" r="2.25"/><circle cx="157.6" cy="419.7" r="2.25"/><circle cx="160.0" cy="419.5" r="2.25"/><circle cx="161.1" cy="419.7" r="2.25"/><circle cx="163.0" cy="419.8" r="2.25"/><circle cx="164.5" cy="419.1" r="2.25"/><circle cx="166.6" cy="419.5" r="2.25"/><circle cx="168.0" cy="418.8" r="2.25"/><circle cx="169.9" cy="419.2" r="2.25"/><circle cx="171.4" cy="418.8" r="2.25"/><circle cx="175.1" cy="418.7" r="2.25"/><circle cx="177.0" cy="418.6" r="2.25"/><circle cx="178.2" cy="419.1" r="2.25"/><circle cx="180.3" cy="419.0" r="2.25"/><circle cx="181.9" cy="418.6" r="2.25"/><circle cx="183.5" cy="418.6" r="2.25"/><circle cx="187.0" cy="418.7" r="2.25"/><circle cx="188.4" cy="418.5" r="2.25"/><circle cx="190.2" cy="418.3" r="2.25"/><circle cx="191.8" cy="418.5" r="2.25"/><circle cx="194.3" cy="418.2" r="2.25"/><circle cx="195.4" cy="418.5" r="2.25"/><circle cx="199.2" cy="418.1" r="2.25"/><circle cx="201.0" cy="418.2" r="2.25"/><circle cx="202.0" cy="417.9" r="2.25"/><circle cx="203.4" cy="417.6" r="2.25"/><circle cx="205.2" cy="417.4" r="2.25"/><circle cx="207.5" cy="417.3" r="2.25"/><circle cx="208.8" cy="417.2" r="2.25"/><circle cx="210.6" cy="417.2" r="2.25"/><circle cx="212.4" cy="417.2" r="2.25"/><circle cx="213.7" cy="417.1" r="2.25"/><circle cx="215.4" cy="416.7" r="2.25"/><circle cx="217.0" cy="417.1" r="2.25"/><circle cx="219.3" cy="416.7" r="2.25"/><circle cx="221.0" cy="416.6" r="2.25"/><circle cx="222.9" cy="416.2" r="2.25"/><circle cx="224.7" cy="416.4" r="2.25"/><circle cx="229.0" cy="416.1" r="2.25"/><circle cx="230.8" cy="415.9" r="2.25"/><circle cx="232.2" cy="415.7" r="2.25"/><circle cx="233.8" cy="415.8" r="2.25"/><circle cx="235.9" cy="415.4" r="2.25"/><circle cx="237.8" cy="414.8" r="2.25"/><circle cx="240.0" cy="414.5" r="2.25"/><circle cx="241.6" cy="414.7" r="2.25"/><circle cx="243.7" cy="414.4" r="2.25"/><circle cx="247.8" cy="413.8" r="2.25"/><circle cx="249.7" cy="413.4" r="2.25"/><circle cx="253.2" cy="413.2" r="2.25"/><circle cx="254.6" cy="413.5" r="2.25"/><circle cx="257.8" cy="413.0" r="2.25"/><circle cx="259.1" cy="412.8" r="2.25"/><circle cx="263.6" cy="412.5" r="2.25"/><circle cx="265.8" cy="412.3" r="2.25"/><circle cx="270.1" cy="411.8" r="2.25"/><circle cx="271.2" cy="411.5" r="2.25"/><circle cx="273.1" cy="411.2" r="2.25"/><circle cx="274.2" cy="411.2" r="2.25"/><circle cx="276.8" cy="411.0" r="2.25"/><circle cx="277.9" cy="411.0" r="2.25"/><circle cx="280.4" cy="410.1" r="2.25"/><circle cx="281.8" cy="410.3" r="2.25"/><circle cx="284.4" cy="410.1" r="2.25"/><circle cx="285.9" cy="409.5" r="2.25"/><circle cx="286.9" cy="409.5" r="2.25"/><circle cx="289.1" cy="409.4" r="2.25"/><circle cx="291.0" cy="409.1" r="2.25"/><circle cx="292.9" cy="408.8" r="2.25"/><circle cx="294.7" cy="408.2" r="2.25"/><circle cx="296.4" cy="408.4" r="2.25"/><circle cx="297.9" cy="407.6" r="2.25"/><circle cx="300.4" cy="407.3" r="2.25"/><circle cx="302.0" cy="407.2" r="2.25"/><circle cx="303.7" cy="406.8" r="2.25"/><circle cx="305.8" cy="406.4" r="2.25"/><circle cx="307.8" cy="406.5" r="2.25"/><circle cx="310.3" cy="406.1" r="2.25"/><circle cx="311.3" cy="405.9" r="2.25"/><circle cx="313.2" cy="405.9" r="2.25"/><circle cx="314.9" cy="405.7" r="2.25"/><circle cx="316.8" cy="405.8" r="2.25"/><circle cx="319.8" cy="405.3" r="2.25"/><circle cx="321.5" cy="405.0" r="2.25"/><circle cx="324.8" cy="404.0" r="2.25"/><circle cx="326.6" cy="403.5" r="2.25"/><circle cx="328.6" cy="403.8" r="2.25"/><circle cx="330.8" cy="403.2" r="2.25"/><circle cx="332.7" cy="402.9" r="2.25"/><circle cx="334.0" cy="402.8" r="2.25"/><circle cx="335.7" cy="402.8" r="2.25"/><circle cx="337.6" cy="402.0" r="2.25"/><circle cx="339.7" cy="402.2" r="2.25"/><circle cx="340.7" cy="401.7" r="2.25"/><circle cx="342.4" cy="401.8" r="2.25"/><circle cx="344.3" cy="401.5" r="2.25"/><circle cx="345.7" cy="401.5" r="2.25"/><circle cx="347.3" cy="401.4" r="2.25"/><circle cx="349.2" cy="401.1" r="2.25"/><circle cx="350.9" cy="400.9" r="2.25"/><circle cx="352.7" cy="400.4" r="2.25"/><circle cx="355.2" cy="399.7" r="2.25"/><circle cx="357.5" cy="399.6" r="2.25"/><circle cx="359.1" cy="399.0" r="2.25"/><circle cx="360.2" cy="398.8" r="2.25"/></g><g fill="#000"><circle cx="359.8" cy="398.3" r="2.4"/><circle cx="361.4" cy="398.3" r="2.4"/><circle cx="363.0" cy="397.4" r="2.4"/><circle cx="364.6" cy="396.9" r="2.4"/><circle cx="366.5" cy="396.0" r="2.4"/><circle cx="367.8" cy="395.5" r="2.4"/><circle cx="369.2" cy="394.2" r="2.4"/><circle cx="370.7" cy="393.3" r="2.4"/><circle cx="371.9" cy="392.7" r="2.4"/><circle cx="373.2" cy="391.6" r="2.4"/><circle cx="375.2" cy="391.0" r="2.4"/><circle cx="376.1" cy="390.4" r="2.4"/><circle cx="378.2" cy="389.9" r="2.4"/><circle cx="379.5" cy="389.9" r="2.4"/><circle cx="380.9" cy="389.3" r="2.4"/><circle cx="383.1" cy="389.0" r="2.4"/><circle cx="384.5" cy="389.0" r="2.4"/><circle cx="386.5" cy="388.7" r="2.4"/><circle cx="387.8" cy="388.7" r="2.4"/><circle cx="389.6" cy="389.4" r="2.4"/><circle cx="391.6" cy="389.9" r="2.4"/><circle cx="392.8" cy="390.6" r="2.4"/><circle cx="394.3" cy="391.1" r="2.4"/><circle cx="395.8" cy="392.5" r="2.4"/><circle cx="397.5" cy="393.1" r="2.4"/><circle cx="399.0" cy="394.5" r="2.4"/><circle cx="399.7" cy="395.9" r="2.4"/><circle cx="400.7" cy="397.3" r="2.4"/><circle cx="401.3" cy="398.6" r="2.4"/><circle cx="401.3" cy="400.5" r="2.4"/><circle cx="401.4" cy="402.0" r="2.4"/><circle cx="401.0" cy="403.7" r="2.4"/><circle cx="400.4" cy="405.4" r="2.4"/><circle cx="399.5" cy="406.5" r="2.4"/><circle cx="398.1" cy="408.2" r="2.4"/><circle cx="396.8" cy="408.9" r="2.4"/><circle cx="395.3" cy="409.9" r="2.4"/><circle cx="393.5" cy="410.7" r="2.4"/><circle cx="391.8" cy="410.9" r="2.4"/><circle cx="390.3" cy="411.6" r="2.4"/><circle cx="389.1" cy="412.3" r="2.4"/><circle cx="387.6" cy="412.8" r="2.4"/><circle cx="385.5" cy="413.6" r="2.4"/><circle cx="384.3" cy="414.5" r="2.4"/><circle cx="382.5" cy="415.2" r="2.4"/><circle cx="381.1" cy="415.8" r="2.4"/><circle cx="379.7" cy="416.8" r="2.4"/><circle cx="378.8" cy="418.2" r="2.4"/><circle cx="377.2" cy="419.3" r="2.4"/><circle cx="376.2" cy="420.3" r="2.4"/><circle cx="375.2" cy="422.2" r="2.4"/><circle cx="374.9" cy="423.7" r="2.4"/><circle cx="374.2" cy="425.4" r="2.4"/><circle cx="374.1" cy="426.8" r="2.4"/><circle cx="374.1" cy="428.2" r="2.4"/><circle cx="373.6" cy="429.7" r="2.4"/><circle cx="373.7" cy="431.7" r="2.4"/><circle cx="374.4" cy="432.9" r="2.4"/><circle cx="374.8" cy="434.7" r="2.4"/><circle cx="375.7" cy="436.1" r="2.4"/><circle cx="375.8" cy="437.9" r="2.4"/><circle cx="377.1" cy="439.2" r="2.4"/><circle cx="377.5" cy="440.4" r="2.4"/><circle cx="378.6" cy="441.5" r="2.4"/><circle cx="379.7" cy="443.0" r="2.4"/><circle cx="381.0" cy="444.1" r="2.4"/><circle cx="382.2" cy="445.6" r="2.4"/><circle cx="383.5" cy="446.5" r="2.4"/><circle cx="385.2" cy="447.2" r="2.4"/><circle cx="386.5" cy="448.2" r="2.4"/><circle cx="388.3" cy="448.8" r="2.4"/><circle cx="389.6" cy="449.6" r="2.4"/><circle cx="391.3" cy="450.1" r="2.4"/><circle cx="393.5" cy="450.9" r="2.4"/><circle cx="395.1" cy="451.3" r="2.4"/><circle cx="396.5" cy="451.6" r="2.4"/><circle cx="398.3" cy="452.2" r="2.4"/><circle cx="400.2" cy="452.4" r="2.4"/></g><g fill="#000"><circle cx="400.2" cy="452.2" r="2.25"/><circle cx="401.7" cy="452.2" r="2.25"/><circle cx="405.5" cy="452.5" r="2.25"/><circle cx="407.7" cy="452.7" r="2.25"/><circle cx="408.5" cy="452.6" r="2.25"/><circle cx="410.7" cy="452.4" r="2.25"/><circle cx="412.5" cy="452.2" r="2.25"/><circle cx="415.6" cy="452.7" r="2.25"/><circle cx="417.5" cy="452.7" r="2.25"/><circle cx="419.1" cy="453.1" r="2.25"/><circle cx="420.4" cy="453.4" r="2.25"/><circle cx="421.8" cy="453.6" r="2.25"/><circle cx="424.4" cy="453.8" r="2.25"/><circle cx="426.3" cy="453.9" r="2.25"/><circle cx="427.5" cy="453.6" r="2.25"/><circle cx="428.7" cy="453.3" r="2.25"/><circle cx="430.4" cy="453.6" r="2.25"/><circle cx="431.3" cy="453.5" r="2.25"/><circle cx="432.9" cy="453.7" r="2.25"/><circle cx="435.0" cy="453.1" r="2.25"/><circle cx="436.4" cy="451.3" r="2.25"/><circle cx="437.4" cy="450.4" r="2.25"/><circle cx="439.0" cy="449.4" r="2.25"/><circle cx="440.3" cy="449.2" r="2.25"/><circle cx="441.7" cy="449.5" r="2.25"/><circle cx="443.7" cy="449.6" r="2.25"/><circle cx="445.2" cy="450.7" r="2.25"/><circle cx="446.0" cy="451.6" r="2.25"/><circle cx="447.6" cy="452.7" r="2.25"/><circle cx="449.6" cy="453.8" r="2.25"/><circle cx="451.4" cy="454.7" r="2.25"/><circle cx="455.2" cy="453.3" r="2.25"/><circle cx="457.0" cy="452.9" r="2.25"/><circle cx="458.4" cy="453.1" r="2.25"/><circle cx="460.4" cy="453.0" r="2.25"/><circle cx="461.9" cy="453.0" r="2.25"/><circle cx="464.3" cy="452.6" r="2.25"/><circle cx="465.4" cy="452.8" r="2.25"/><circle cx="467.4" cy="452.6" r="2.25"/><circle cx="469.1" cy="452.6" r="2.25"/><circle cx="473.5" cy="451.1" r="2.25"/><circle cx="475.0" cy="450.6" r="2.25"/><circle cx="476.9" cy="450.6" r="2.25"/><circle cx="478.9" cy="451.1" r="2.25"/><circle cx="480.5" cy="451.3" r="2.25"/><circle cx="481.7" cy="451.2" r="2.25"/><circle cx="483.3" cy="451.0" r="2.25"/><circle cx="485.1" cy="449.8" r="2.25"/><circle cx="486.5" cy="450.2" r="2.25"/><circle cx="488.2" cy="450.9" r="2.25"/><circle cx="490.2" cy="451.5" r="2.25"/><circle cx="492.1" cy="452.8" r="2.25"/><circle cx="494.0" cy="452.8" r="2.25"/><circle cx="495.8" cy="453.3" r="2.25"/><circle cx="500.0" cy="453.4" r="2.25"/><circle cx="502.1" cy="453.6" r="2.25"/><circle cx="505.8" cy="455.5" r="2.25"/><circle cx="506.9" cy="456.0" r="2.25"/><circle cx="508.5" cy="456.7" r="2.25"/><circle cx="509.5" cy="457.7" r="2.25"/><circle cx="511.8" cy="457.3" r="2.25"/><circle cx="514.1" cy="456.8" r="2.25"/><circle cx="515.0" cy="456.7" r="2.25"/><circle cx="517.2" cy="456.8" r="2.25"/><circle cx="518.5" cy="455.8" r="2.25"/><circle cx="519.1" cy="454.7" r="2.25"/><circle cx="519.9" cy="452.8" r="2.25"/><circle cx="520.9" cy="451.9" r="2.25"/><circle cx="522.0" cy="449.9" r="2.25"/><circle cx="523.0" cy="448.9" r="2.25"/><circle cx="525.3" cy="449.2" r="2.25"/><circle cx="527.2" cy="449.3" r="2.25"/><circle cx="528.7" cy="449.8" r="2.25"/><circle cx="530.4" cy="450.0" r="2.25"/><circle cx="532.4" cy="450.0" r="2.25"/><circle cx="533.9" cy="450.2" r="2.25"/><circle cx="537.7" cy="449.5" r="2.25"/><circle cx="539.6" cy="449.2" r="2.25"/><circle cx="540.6" cy="448.6" r="2.25"/><circle cx="542.6" cy="448.6" r="2.25"/><circle cx="544.9" cy="448.5" r="2.25"/><circle cx="546.9" cy="449.2" r="2.25"/><circle cx="548.8" cy="450.0" r="2.25"/><circle cx="551.3" cy="450.6" r="2.25"/><circle cx="553.0" cy="450.5" r="2.25"/><circle cx="554.5" cy="450.8" r="2.25"/><circle cx="556.7" cy="450.7" r="2.25"/><circle cx="558.4" cy="450.9" r="2.25"/><circle cx="560.8" cy="451.5" r="2.25"/><circle cx="562.6" cy="451.7" r="2.25"/><circle cx="565.0" cy="451.4" r="2.25"/><circle cx="566.4" cy="451.5" r="2.25"/><circle cx="568.7" cy="451.7" r="2.25"/><circle cx="570.1" cy="451.3" r="2.25"/><circle cx="571.7" cy="451.6" r="2.25"/><circle cx="573.2" cy="451.8" r="2.25"/><circle cx="575.0" cy="451.7" r="2.25"/><circle cx="577.3" cy="451.4" r="2.25"/><circle cx="579.1" cy="451.6" r="2.25"/><circle cx="581.1" cy="451.6" r="2.25"/><circle cx="582.8" cy="451.6" r="2.25"/><circle cx="584.5" cy="451.7" r="2.25"/><circle cx="586.4" cy="451.1" r="2.25"/><circle cx="588.8" cy="451.2" r="2.25"/><circle cx="589.7" cy="451.2" r="2.25"/></g><g fill="#00dc00" stroke="#007a00" stroke-width="0.55"><circle cx="158.8" cy="418.3" r="1.95"/><circle cx="160.6" cy="418.2" r="1.95"/><circle cx="162.3" cy="418.3" r="1.95"/><circle cx="164.4" cy="418.0" r="1.95"/><circle cx="165.8" cy="418.3" r="1.95"/><circle cx="167.8" cy="417.8" r="1.95"/><circle cx="169.7" cy="417.7" r="1.95"/><circle cx="171.4" cy="417.7" r="1.95"/><circle cx="172.6" cy="417.3" r="1.95"/><circle cx="174.4" cy="416.8" r="1.95"/><circle cx="176.0" cy="416.6" r="1.95"/><circle cx="178.1" cy="416.3" r="1.95"/><circle cx="179.7" cy="416.2" r="1.95"/><circle cx="181.5" cy="416.1" r="1.95"/><circle cx="183.8" cy="416.1" r="1.95"/><circle cx="185.4" cy="416.0" r="1.95"/><circle cx="187.1" cy="415.6" r="1.95"/><circle cx="188.8" cy="415.6" r="1.95"/><circle cx="190.4" cy="415.3" r="1.95"/><circle cx="192.3" cy="415.0" r="1.95"/><circle cx="193.5" cy="415.3" r="1.95"/><circle cx="195.7" cy="414.8" r="1.95"/><circle cx="197.5" cy="414.6" r="1.95"/><circle cx="199.0" cy="414.1" r="1.95"/><circle cx="200.9" cy="414.2" r="1.95"/><circle cx="202.5" cy="413.6" r="1.95"/><circle cx="204.7" cy="413.6" r="1.95"/><circle cx="206.0" cy="413.2" r="1.95"/><circle cx="208.2" cy="413.0" r="1.95"/><circle cx="210.0" cy="412.9" r="1.95"/><circle cx="211.3" cy="412.5" r="1.95"/><circle cx="213.2" cy="412.3" r="1.95"/><circle cx="215.3" cy="412.5" r="1.95"/><circle cx="216.9" cy="412.4" r="1.95"/><circle cx="218.4" cy="411.8" r="1.95"/><circle cx="220.5" cy="412.1" r="1.95"/><circle cx="221.8" cy="411.5" r="1.95"/><circle cx="223.8" cy="411.3" r="1.95"/><circle cx="225.0" cy="411.0" r="1.95"/><circle cx="227.1" cy="411.0" r="1.95"/><circle cx="228.4" cy="410.5" r="1.95"/><circle cx="230.3" cy="410.5" r="1.95"/><circle cx="231.8" cy="410.1" r="1.95"/><circle cx="234.0" cy="410.2" r="1.95"/><circle cx="235.3" cy="410.2" r="1.95"/><circle cx="237.4" cy="410.0" r="1.95"/><circle cx="239.2" cy="409.5" r="1.95"/><circle cx="240.6" cy="409.4" r="1.95"/><circle cx="242.3" cy="409.2" r="1.95"/><circle cx="244.2" cy="409.4" r="1.95"/><circle cx="245.6" cy="409.1" r="1.95"/><circle cx="247.6" cy="408.9" r="1.95"/><circle cx="249.0" cy="408.5" r="1.95"/><circle cx="250.9" cy="408.4" r="1.95"/><circle cx="252.8" cy="408.3" r="1.95"/><circle cx="254.4" cy="408.0" r="1.95"/><circle cx="256.0" cy="407.7" r="1.95"/><circle cx="257.6" cy="407.5" r="1.95"/><circle cx="259.4" cy="406.9" r="1.95"/><circle cx="261.4" cy="406.9" r="1.95"/><circle cx="263.2" cy="406.5" r="1.95"/><circle cx="265.0" cy="406.5" r="1.95"/><circle cx="266.7" cy="406.6" r="1.95"/><circle cx="268.0" cy="406.0" r="1.95"/><circle cx="270.2" cy="405.9" r="1.95"/><circle cx="271.6" cy="405.8" r="1.95"/><circle cx="273.2" cy="405.5" r="1.95"/><circle cx="275.0" cy="405.6" r="1.95"/><circle cx="277.0" cy="405.0" r="1.95"/><circle cx="278.9" cy="405.1" r="1.95"/><circle cx="280.3" cy="404.8" r="1.95"/><circle cx="282.4" cy="404.3" r="1.95"/><circle cx="283.8" cy="404.1" r="1.95"/><circle cx="285.9" cy="404.0" r="1.95"/><circle cx="287.6" cy="403.8" r="1.95"/><circle cx="289.3" cy="403.5" r="1.95"/><circle cx="290.8" cy="403.3" r="1.95"/><circle cx="292.6" cy="403.1" r="1.95"/><circle cx="294.1" cy="402.6" r="1.95"/><circle cx="295.8" cy="402.7" r="1.95"/><circle cx="298.0" cy="402.5" r="1.95"/><circle cx="299.5" cy="402.3" r="1.95"/><circle cx="301.2" cy="401.7" r="1.95"/><circle cx="303.1" cy="401.4" r="1.95"/><circle cx="304.4" cy="401.0" r="1.95"/><circle cx="306.2" cy="400.7" r="1.95"/><circle cx="308.0" cy="400.5" r="1.95"/><circle cx="309.8" cy="400.0" r="1.95"/><circle cx="311.1" cy="399.8" r="1.95"/><circle cx="312.8" cy="399.3" r="1.95"/><circle cx="314.9" cy="398.5" r="1.95"/><circle cx="316.2" cy="398.1" r="1.95"/><circle cx="318.0" cy="397.8" r="1.95"/><circle cx="319.8" cy="398.0" r="1.95"/><circle cx="321.6" cy="397.3" r="1.95"/><circle cx="323.5" cy="397.3" r="1.95"/><circle cx="325.1" cy="396.8" r="1.95"/><circle cx="327.0" cy="396.3" r="1.95"/><circle cx="328.5" cy="396.3" r="1.95"/><circle cx="330.4" cy="396.2" r="1.95"/><circle cx="331.6" cy="395.5" r="1.95"/><circle cx="333.4" cy="395.9" r="1.95"/><circle cx="335.5" cy="395.4" r="1.95"/><circle cx="337.1" cy="395.4" r="1.95"/><circle cx="338.7" cy="395.5" r="1.95"/><circle cx="340.5" cy="395.5" r="1.95"/><circle cx="342.3" cy="395.7" r="1.95"/><circle cx="344.3" cy="395.8" r="1.95"/><circle cx="345.8" cy="396.0" r="1.95"/><circle cx="347.6" cy="396.0" r="1.95"/><circle cx="349.1" cy="396.4" r="1.95"/><circle cx="351.2" cy="396.5" r="1.95"/><circle cx="352.7" cy="396.5" r="1.95"/><circle cx="354.4" cy="397.1" r="1.95"/><circle cx="356.7" cy="397.4" r="1.95"/><circle cx="358.4" cy="397.9" r="1.95"/><circle cx="360.2" cy="397.9" r="1.95"/><circle cx="361.6" cy="398.1" r="1.95"/><circle cx="363.2" cy="398.5" r="1.95"/><circle cx="364.6" cy="398.7" r="1.95"/><circle cx="366.3" cy="399.3" r="1.95"/><circle cx="368.3" cy="399.5" r="1.95"/><circle cx="370.2" cy="400.0" r="1.95"/><circle cx="372.0" cy="400.4" r="1.95"/><circle cx="373.6" cy="400.9" r="1.95"/><circle cx="375.2" cy="400.7" r="1.95"/><circle cx="377.3" cy="401.7" r="1.95"/><circle cx="378.7" cy="402.1" r="1.95"/><circle cx="380.6" cy="402.5" r="1.95"/><circle cx="382.0" cy="403.3" r="1.95"/><circle cx="383.8" cy="403.6" r="1.95"/><circle cx="385.0" cy="404.1" r="1.95"/><circle cx="386.8" cy="404.8" r="1.95"/><circle cx="388.3" cy="405.2" r="1.95"/><circle cx="390.2" cy="405.9" r="1.95"/><circle cx="391.7" cy="406.1" r="1.95"/><circle cx="393.3" cy="406.9" r="1.95"/><circle cx="395.2" cy="407.5" r="1.95"/><circle cx="396.8" cy="408.9" r="1.95"/><circle cx="397.2" cy="410.0" r="1.95"/><circle cx="397.5" cy="412.2" r="1.95"/><circle cx="397.4" cy="413.6" r="1.95"/><circle cx="396.9" cy="415.6" r="1.95"/><circle cx="395.3" cy="416.6" r="1.95"/><circle cx="394.1" cy="417.6" r="1.95"/><circle cx="392.4" cy="418.2" r="1.95"/><circle cx="391.0" cy="419.2" r="1.95"/><circle cx="389.0" cy="419.7" r="1.95"/><circle cx="387.4" cy="420.1" r="1.95"/><circle cx="385.5" cy="420.9" r="1.95"/><circle cx="383.9" cy="421.6" r="1.95"/><circle cx="382.4" cy="422.0" r="1.95"/><circle cx="380.9" cy="423.2" r="1.95"/><circle cx="379.6" cy="424.6" r="1.95"/><circle cx="379.3" cy="426.0" r="1.95"/><circle cx="378.8" cy="427.5" r="1.95"/><circle cx="378.9" cy="429.3" r="1.95"/><circle cx="379.0" cy="431.2" r="1.95"/><circle cx="380.0" cy="432.7" r="1.95"/><circle cx="380.7" cy="434.6" r="1.95"/><circle cx="381.7" cy="435.7" r="1.95"/><circle cx="382.9" cy="436.7" r="1.95"/><circle cx="384.4" cy="438.2" r="1.95"/><circle cx="386.0" cy="439.2" r="1.95"/><circle cx="387.7" cy="439.8" r="1.95"/><circle cx="389.2" cy="440.6" r="1.95"/><circle cx="390.8" cy="441.7" r="1.95"/><circle cx="392.2" cy="442.8" r="1.95"/><circle cx="393.4" cy="443.1" r="1.95"/><circle cx="395.1" cy="444.4" r="1.95"/><circle cx="396.3" cy="445.1" r="1.95"/><circle cx="398.3" cy="445.9" r="1.95"/><circle cx="400.0" cy="446.4" r="1.95"/><circle cx="401.3" cy="446.9" r="1.95"/><circle cx="402.8" cy="447.9" r="1.95"/><circle cx="404.8" cy="448.4" r="1.95"/><circle cx="406.3" cy="448.5" r="1.95"/><circle cx="407.9" cy="449.1" r="1.95"/><circle cx="409.7" cy="449.4" r="1.95"/><circle cx="411.7" cy="450.0" r="1.95"/><circle cx="413.6" cy="450.2" r="1.95"/><circle cx="414.8" cy="450.5" r="1.95"/><circle cx="416.8" cy="450.2" r="1.95"/><circle cx="418.8" cy="450.2" r="1.95"/><circle cx="420.4" cy="450.4" r="1.95"/><circle cx="421.9" cy="450.2" r="1.95"/><circle cx="423.8" cy="450.1" r="1.95"/><circle cx="425.5" cy="450.5" r="1.95"/><circle cx="427.5" cy="450.8" r="1.95"/><circle cx="429.2" cy="450.7" r="1.95"/><circle cx="431.0" cy="451.4" r="1.95"/><circle cx="433.0" cy="451.4" r="1.95"/><circle cx="434.6" cy="451.6" r="1.95"/><circle cx="436.7" cy="451.8" r="1.95"/><circle cx="438.2" cy="451.5" r="1.95"/><circle cx="440.1" cy="451.9" r="1.95"/><circle cx="441.6" cy="451.7" r="1.95"/><circle cx="443.6" cy="452.2" r="1.95"/><circle cx="444.9" cy="451.8" r="1.95"/><circle cx="446.5" cy="452.1" r="1.95"/><circle cx="448.2" cy="452.1" r="1.95"/><circle cx="449.6" cy="452.3" r="1.95"/><circle cx="451.6" cy="452.0" r="1.95"/><circle cx="453.1" cy="452.3" r="1.95"/><circle cx="455.0" cy="451.8" r="1.95"/><circle cx="456.5" cy="452.1" r="1.95"/><circle cx="458.1" cy="452.2" r="1.95"/><circle cx="460.3" cy="452.0" r="1.95"/><circle cx="461.7" cy="452.4" r="1.95"/><circle cx="463.4" cy="452.4" r="1.95"/><circle cx="465.6" cy="452.2" r="1.95"/><circle cx="467.4" cy="452.3" r="1.95"/><circle cx="469.3" cy="452.7" r="1.95"/><circle cx="470.8" cy="453.0" r="1.95"/><circle cx="472.8" cy="452.7" r="1.95"/><circle cx="474.0" cy="453.2" r="1.95"/><circle cx="475.9" cy="453.0" r="1.95"/><circle cx="477.9" cy="453.2" r="1.95"/><circle cx="479.4" cy="453.3" r="1.95"/><circle cx="481.3" cy="452.9" r="1.95"/><circle cx="483.0" cy="453.1" r="1.95"/><circle cx="484.3" cy="453.0" r="1.95"/><circle cx="486.2" cy="453.3" r="1.95"/><circle cx="488.3" cy="452.9" r="1.95"/><circle cx="489.8" cy="452.7" r="1.95"/><circle cx="491.4" cy="452.9" r="1.95"/><circle cx="493.3" cy="453.2" r="1.95"/><circle cx="495.6" cy="452.9" r="1.95"/><circle cx="496.9" cy="452.8" r="1.95"/><circle cx="499.0" cy="452.8" r="1.95"/><circle cx="500.8" cy="452.8" r="1.95"/><circle cx="502.4" cy="452.7" r="1.95"/><circle cx="504.3" cy="452.8" r="1.95"/><circle cx="505.5" cy="453.1" r="1.95"/><circle cx="507.6" cy="453.0" r="1.95"/><circle cx="509.4" cy="452.9" r="1.95"/><circle cx="511.1" cy="453.3" r="1.95"/><circle cx="512.3" cy="453.2" r="1.95"/><circle cx="514.5" cy="453.6" r="1.95"/><circle cx="516.2" cy="453.6" r="1.95"/><circle cx="518.0" cy="453.2" r="1.95"/><circle cx="519.4" cy="453.4" r="1.95"/><circle cx="521.4" cy="453.2" r="1.95"/><circle cx="522.9" cy="453.2" r="1.95"/><circle cx="525.2" cy="453.0" r="1.95"/><circle cx="526.5" cy="452.8" r="1.95"/><circle cx="528.7" cy="452.9" r="1.95"/><circle cx="530.2" cy="452.6" r="1.95"/><circle cx="532.1" cy="452.3" r="1.95"/><circle cx="533.5" cy="452.6" r="1.95"/><circle cx="535.4" cy="452.3" r="1.95"/><circle cx="537.3" cy="451.9" r="1.95"/><circle cx="539.3" cy="452.0" r="1.95"/><circle cx="541.0" cy="452.3" r="1.95"/><circle cx="542.4" cy="452.2" r="1.95"/><circle cx="544.3" cy="451.9" r="1.95"/><circle cx="546.0" cy="452.1" r="1.95"/><circle cx="547.9" cy="452.4" r="1.95"/><circle cx="549.3" cy="452.3" r="1.95"/><circle cx="551.1" cy="452.2" r="1.95"/><circle cx="552.7" cy="452.3" r="1.95"/><circle cx="554.5" cy="452.4" r="1.95"/><circle cx="556.1" cy="452.7" r="1.95"/><circle cx="557.8" cy="452.3" r="1.95"/><circle cx="560.1" cy="452.8" r="1.95"/><circle cx="561.7" cy="452.6" r="1.95"/><circle cx="563.4" cy="452.6" r="1.95"/><circle cx="565.1" cy="452.2" r="1.95"/><circle cx="567.0" cy="452.0" r="1.95"/><circle cx="569.2" cy="452.2" r="1.95"/><circle cx="570.7" cy="451.5" r="1.95"/><circle cx="572.3" cy="451.9" r="1.95"/><circle cx="574.3" cy="452.0" r="1.95"/><circle cx="576.0" cy="452.0" r="1.95"/><circle cx="577.7" cy="452.3" r="1.95"/><circle cx="580.0" cy="452.3" r="1.95"/><circle cx="581.5" cy="452.6" r="1.95"/></g></g><g stroke="#222" stroke-width="1" fill="none" shape-rendering="auto"><path d="M45 299.5H589.5V512.5H45Z" stroke-width="1.1"/><path d="M45 482.50h4.8M45 452.20h4.8M45 421.90h4.8M45 391.60h4.8M45 361.30h4.8M45 331.00h4.8M45 300.70h4.8M45.00 512.5v-4.8M105.50 512.5v-4.8M166.00 512.5v-4.8M226.50 512.5v-4.8M287.00 512.5v-4.8M347.50 512.5v-4.8M408.00 512.5v-4.8M468.50 512.5v-4.8M529.00 512.5v-4.8M589.50 512.5v-4.8" stroke-width="1"/><path d="M45 506.74h3M45 500.68h3M45 494.62h3M45 488.56h3M45 476.44h3M45 470.38h3M45 464.32h3M45 458.26h3M45 446.14h3M45 440.08h3M45 434.02h3M45 427.96h3M45 415.84h3M45 409.78h3M45 403.72h3M45 397.66h3M45 385.54h3M45 379.48h3M45 373.42h3M45 367.36h3M45 355.24h3M45 349.18h3M45 343.12h3M45 337.06h3M45 324.94h3M45 318.88h3M45 312.82h3M45 306.76h3M57.10 512.5v-3M69.20 512.5v-3M81.30 512.5v-3M93.40 512.5v-3M117.60 512.5v-3M129.70 512.5v-3M141.80 512.5v-3M153.90 512.5v-3M178.10 512.5v-3M190.20 512.5v-3M202.30 512.5v-3M214.40 512.5v-3M238.60 512.5v-3M250.70 512.5v-3M262.80 512.5v-3M274.90 512.5v-3M299.10 512.5v-3M311.20 512.5v-3M323.30 512.5v-3M335.40 512.5v-3M359.60 512.5v-3M371.70 512.5v-3M383.80 512.5v-3M395.90 512.5v-3M420.10 512.5v-3M432.20 512.5v-3M444.30 512.5v-3M456.40 512.5v-3M480.60 512.5v-3M492.70 512.5v-3M504.80 512.5v-3M516.90 512.5v-3M541.10 512.5v-3M553.20 512.5v-3M565.30 512.5v-3M577.40 512.5v-3" stroke="#bdbdbd" stroke-width="0.9"/></g><g font-family="Liberation Sans, sans-serif" font-size="14.4" fill="#111"><text x="38" y="305.6" text-anchor="end">1.25</text><text x="38" y="335.9" text-anchor="end">1</text><text x="38" y="366.2" text-anchor="end">0.75</text><text x="38" y="396.5" text-anchor="end">0.5</text><text x="38" y="426.8" text-anchor="end">0.25</text><text x="38" y="457.1" text-anchor="end">0</text><text x="38" y="487.4" text-anchor="end">-0.25</text><text x="45.0" y="524.9" text-anchor="middle">10.5</text><text x="105.5" y="524.9" text-anchor="middle">11</text><text x="166.0" y="524.9" text-anchor="middle">11.5</text><text x="226.5" y="524.9" text-anchor="middle">12</text><text x="287.0" y="524.9" text-anchor="middle">12.5</text><text x="347.5" y="524.9" text-anchor="middle">13</text><text x="408.0" y="524.9" text-anchor="middle">13.5</text><text x="468.5" y="524.9" text-anchor="middle">14</text><text x="529.0" y="524.9" text-anchor="middle">14.5</text><text x="589.5" y="524.9" text-anchor="middle">15</text></g><g font-family="Liberation Sans, sans-serif" font-size="14.4" font-weight="bold" fill="#111"><text transform="translate(20.5 405.5) rotate(-90)" text-anchor="middle">Y</text><text x="317.5" y="532" text-anchor="middle">X</text></g></g><g id="panel-d"><clipPath id="clip-d"><rect x="685.5" y="299" width="545.5" height="213.29999999999995"/></clipPath><path d="M685.5 492.6L1230 459.2" stroke="#111" stroke-width="1" fill="none"/><g clip-path="url(#clip-d)"><g fill="#f00000"><circle cx="926.5" cy="420.5" r="2.35"/><circle cx="965.5" cy="416.5" r="2.35"/><circle cx="980.0" cy="415.0" r="2.35"/><circle cx="991.0" cy="413.5" r="2.35"/><circle cx="999.5" cy="412.5" r="2.35"/><circle cx="1006.0" cy="411.0" r="2.35"/><circle cx="1013.8" cy="409.5" r="2.35"/><circle cx="1020.5" cy="409.0" r="2.35"/><circle cx="1024.5" cy="408.2" r="2.35"/><circle cx="1030.0" cy="407.2" r="2.35"/><circle cx="1074.0" cy="402.8" r="2.35"/><circle cx="1078.5" cy="403.8" r="2.35"/><circle cx="1084.0" cy="404.8" r="2.35"/><circle cx="1090.0" cy="406.2" r="2.35"/><circle cx="1095.0" cy="408.5" r="2.35"/><circle cx="1100.0" cy="411.5" r="2.35"/><circle cx="1104.0" cy="414.0" r="2.35"/><circle cx="1109.0" cy="419.0" r="2.35"/><circle cx="1119.0" cy="428.5" r="2.35"/><circle cx="1122.0" cy="434.5" r="2.35"/><circle cx="1117.0" cy="437.0" r="2.35"/><circle cx="1120.0" cy="440.5" r="2.35"/><circle cx="1123.0" cy="444.0" r="2.35"/><circle cx="1126.0" cy="442.5" r="2.35"/><circle cx="1087.0" cy="427.4" r="2.35"/><circle cx="1093.0" cy="424.9" r="2.35"/><circle cx="1097.0" cy="424.9" r="2.35"/><circle cx="1101.0" cy="426.2" r="2.35"/><circle cx="1106.0" cy="429.2" r="2.35"/></g><g fill="#2424f4"><circle cx="815.5" cy="424.0" r="2.35"/><circle cx="922.5" cy="420.2" r="2.35"/><circle cx="938.0" cy="419.0" r="2.35"/><circle cx="953.8" cy="417.5" r="2.35"/><circle cx="967.8" cy="416.0" r="2.35"/><circle cx="982.2" cy="414.5" r="2.35"/><circle cx="996.2" cy="412.2" r="2.35"/><circle cx="1009.0" cy="410.0" r="2.35"/><circle cx="1022.5" cy="408.2" r="2.35"/><circle cx="1036.0" cy="406.0" r="2.35"/><circle cx="1064.0" cy="400.0" r="2.35"/><circle cx="1071.8" cy="399.7" r="2.35"/><circle cx="1076.5" cy="400.3" r="2.35"/><circle cx="1081.5" cy="400.8" r="2.35"/><circle cx="1088.5" cy="402.7" r="2.35"/><circle cx="1093.5" cy="404.0" r="2.35"/><circle cx="1097.5" cy="405.8" r="2.35"/><circle cx="1101.5" cy="408.5" r="2.35"/><circle cx="1105.5" cy="411.0" r="2.35"/><circle cx="1109.5" cy="413.5" r="2.35"/><circle cx="1113.5" cy="417.8" r="2.35"/><circle cx="1116.5" cy="420.5" r="2.35"/><circle cx="1119.5" cy="423.8" r="2.35"/><circle cx="1123.5" cy="428.2" r="2.35"/><circle cx="1127.0" cy="432.5" r="2.35"/><circle cx="1130.8" cy="436.0" r="2.35"/><circle cx="1133.8" cy="441.2" r="2.35"/><circle cx="1136.0" cy="446.0" r="2.35"/><circle cx="1136.2" cy="449.5" r="2.35"/><circle cx="1134.0" cy="451.5" r="2.35"/><circle cx="1117.0" cy="435.0" r="2.35"/><circle cx="1120.0" cy="436.5" r="2.35"/><circle cx="1122.5" cy="438.5" r="2.35"/><circle cx="1125.0" cy="441.0" r="2.35"/><circle cx="1128.5" cy="445.5" r="2.35"/><circle cx="1131.0" cy="448.5" r="2.35"/><circle cx="1133.0" cy="451.0" r="2.35"/><circle cx="1082.5" cy="429.5" r="2.35"/><circle cx="1084.5" cy="426.5" r="2.35"/><circle cx="1088.0" cy="423.5" r="2.35"/><circle cx="1091.5" cy="422.0" r="2.35"/><circle cx="1095.0" cy="421.2" r="2.35"/><circle cx="1098.5" cy="422.0" r="2.35"/><circle cx="1102.0" cy="423.5" r="2.35"/><circle cx="1105.0" cy="425.5" r="2.35"/><circle cx="1107.5" cy="427.5" r="2.35"/><circle cx="1110.0" cy="429.0" r="2.35"/><circle cx="1143.5" cy="453.5" r="2.35"/><circle cx="1167.5" cy="453.2" r="2.35"/></g><g fill="#000"><circle cx="685.6" cy="433.3" r="2.25"/><circle cx="687.3" cy="433.2" r="2.25"/><circle cx="688.9" cy="433.4" r="2.25"/><circle cx="691.3" cy="433.5" r="2.25"/><circle cx="693.2" cy="433.7" r="2.25"/><circle cx="694.9" cy="433.8" r="2.25"/><circle cx="697.0" cy="433.3" r="2.25"/><circle cx="700.8" cy="432.8" r="2.25"/><circle cx="702.2" cy="433.0" r="2.25"/><circle cx="705.4" cy="432.3" r="2.25"/><circle cx="708.5" cy="432.2" r="2.25"/><circle cx="710.8" cy="432.3" r="2.25"/><circle cx="712.9" cy="432.0" r="2.25"/><circle cx="715.8" cy="431.8" r="2.25"/><circle cx="717.7" cy="431.7" r="2.25"/><circle cx="718.8" cy="431.7" r="2.25"/><circle cx="720.9" cy="431.7" r="2.25"/><circle cx="722.2" cy="431.6" r="2.25"/><circle cx="724.1" cy="431.4" r="2.25"/><circle cx="725.9" cy="431.6" r="2.25"/><circle cx="728.0" cy="431.4" r="2.25"/><circle cx="729.9" cy="431.3" r="2.25"/><circle cx="731.3" cy="431.2" r="2.25"/><circle cx="732.8" cy="431.2" r="2.25"/><circle cx="734.9" cy="431.2" r="2.25"/><circle cx="736.4" cy="431.0" r="2.25"/><circle cx="737.9" cy="431.1" r="2.25"/><circle cx="739.6" cy="430.7" r="2.25"/><circle cx="741.9" cy="430.5" r="2.25"/><circle cx="743.2" cy="430.4" r="2.25"/><circle cx="746.7" cy="430.7" r="2.25"/><circle cx="748.8" cy="430.2" r="2.25"/><circle cx="750.2" cy="430.3" r="2.25"/><circle cx="751.1" cy="429.8" r="2.25"/><circle cx="752.7" cy="429.8" r="2.25"/><circle cx="754.9" cy="430.0" r="2.25"/><circle cx="756.8" cy="429.7" r="2.25"/><circle cx="758.2" cy="429.5" r="2.25"/><circle cx="760.8" cy="429.5" r="2.25"/><circle cx="762.3" cy="429.4" r="2.25"/><circle cx="764.4" cy="429.3" r="2.25"/><circle cx="766.6" cy="429.2" r="2.25"/><circle cx="769.7" cy="429.3" r="2.25"/><circle cx="771.3" cy="428.7" r="2.25"/><circle cx="773.2" cy="428.9" r="2.25"/><circle cx="774.6" cy="429.0" r="2.25"/><circle cx="776.4" cy="428.5" r="2.25"/><circle cx="781.1" cy="428.1" r="2.25"/><circle cx="783.0" cy="428.1" r="2.25"/><circle cx="784.3" cy="427.8" r="2.25"/><circle cx="786.2" cy="427.5" r="2.25"/><circle cx="788.2" cy="427.4" r="2.25"/><circle cx="790.2" cy="427.3" r="2.25"/><circle cx="791.6" cy="427.5" r="2.25"/><circle cx="793.4" cy="427.0" r="2.25"/><circle cx="794.7" cy="427.0" r="2.25"/><circle cx="796.9" cy="427.1" r="2.25"/><circle cx="798.9" cy="426.8" r="2.25"/><circle cx="800.1" cy="427.2" r="2.25"/><circle cx="802.3" cy="426.7" r="2.25"/><circle cx="804.5" cy="427.1" r="2.25"/><circle cx="806.5" cy="426.8" r="2.25"/><circle cx="808.4" cy="426.9" r="2.25"/><circle cx="811.2" cy="426.4" r="2.25"/><circle cx="812.3" cy="426.4" r="2.25"/><circle cx="814.7" cy="427.0" r="2.25"/><circle cx="817.0" cy="426.6" r="2.25"/><circle cx="818.1" cy="426.9" r="2.25"/><circle cx="819.5" cy="427.1" r="2.25"/><circle cx="820.9" cy="426.7" r="2.25"/><circle cx="822.1" cy="427.2" r="2.25"/><circle cx="823.9" cy="427.2" r="2.25"/><circle cx="825.6" cy="427.0" r="2.25"/><circle cx="828.0" cy="426.8" r="2.25"/><circle cx="830.4" cy="426.6" r="2.25"/><circle cx="832.3" cy="425.8" r="2.25"/><circle cx="834.0" cy="425.9" r="2.25"/><circle cx="834.9" cy="425.7" r="2.25"/><circle cx="839.6" cy="425.3" r="2.25"/><circle cx="840.8" cy="425.3" r="2.25"/><circle cx="842.8" cy="425.6" r="2.25"/><circle cx="847.0" cy="425.6" r="2.25"/><circle cx="848.5" cy="425.4" r="2.25"/><circle cx="849.9" cy="425.2" r="2.25"/><circle cx="851.8" cy="424.9" r="2.25"/><circle cx="853.7" cy="425.0" r="2.25"/><circle cx="855.2" cy="424.5" r="2.25"/><circle cx="857.6" cy="424.5" r="2.25"/><circle cx="859.2" cy="424.6" r="2.25"/><circle cx="863.6" cy="424.6" r="2.25"/><circle cx="865.4" cy="424.4" r="2.25"/><circle cx="867.3" cy="424.1" r="2.25"/><circle cx="871.1" cy="424.1" r="2.25"/><circle cx="873.3" cy="424.1" r="2.25"/><circle cx="875.0" cy="423.7" r="2.25"/><circle cx="876.9" cy="423.5" r="2.25"/><circle cx="878.4" cy="423.4" r="2.25"/><circle cx="880.5" cy="423.8" r="2.25"/><circle cx="882.3" cy="423.6" r="2.25"/><circle cx="883.8" cy="423.5" r="2.25"/><circle cx="885.6" cy="423.5" r="2.25"/><circle cx="887.4" cy="423.6" r="2.25"/><circle cx="888.6" cy="423.9" r="2.25"/><circle cx="890.4" cy="423.9" r="2.25"/><circle cx="892.8" cy="423.9" r="2.25"/><circle cx="894.4" cy="423.9" r="2.25"/><circle cx="897.4" cy="423.8" r="2.25"/><circle cx="898.8" cy="423.1" r="2.25"/><circle cx="901.6" cy="423.2" r="2.25"/><circle cx="903.6" cy="422.9" r="2.25"/><circle cx="905.9" cy="423.0" r="2.25"/><circle cx="907.6" cy="423.1" r="2.25"/><circle cx="909.5" cy="423.1" r="2.25"/><circle cx="911.4" cy="423.0" r="2.25"/><circle cx="913.4" cy="422.7" r="2.25"/><circle cx="914.9" cy="422.7" r="2.25"/><circle cx="916.6" cy="423.0" r="2.25"/><circle cx="918.4" cy="422.5" r="2.25"/><circle cx="921.9" cy="422.1" r="2.25"/><circle cx="923.7" cy="422.0" r="2.25"/><circle cx="925.3" cy="422.3" r="2.25"/><circle cx="928.3" cy="421.7" r="2.25"/><circle cx="930.0" cy="421.7" r="2.25"/><circle cx="930.9" cy="421.7" r="2.25"/><circle cx="932.8" cy="421.2" r="2.25"/><circle cx="934.9" cy="421.2" r="2.25"/><circle cx="937.2" cy="421.0" r="2.25"/><circle cx="939.4" cy="420.9" r="2.25"/><circle cx="940.8" cy="421.2" r="2.25"/><circle cx="942.1" cy="421.2" r="2.25"/><circle cx="943.2" cy="420.6" r="2.25"/><circle cx="944.7" cy="420.8" r="2.25"/><circle cx="946.1" cy="420.9" r="2.25"/><circle cx="947.9" cy="420.5" r="2.25"/><circle cx="949.7" cy="420.6" r="2.25"/><circle cx="952.5" cy="420.1" r="2.25"/><circle cx="953.9" cy="420.2" r="2.25"/><circle cx="956.3" cy="420.0" r="2.25"/><circle cx="957.1" cy="419.9" r="2.25"/><circle cx="958.7" cy="419.7" r="2.25"/><circle cx="960.7" cy="418.9" r="2.25"/><circle cx="963.1" cy="418.7" r="2.25"/><circle cx="964.1" cy="419.1" r="2.25"/><circle cx="966.2" cy="418.9" r="2.25"/><circle cx="968.2" cy="418.7" r="2.25"/><circle cx="970.2" cy="418.4" r="2.25"/><circle cx="971.7" cy="418.7" r="2.25"/><circle cx="973.5" cy="418.3" r="2.25"/><circle cx="975.3" cy="418.0" r="2.25"/><circle cx="976.9" cy="417.9" r="2.25"/><circle cx="978.9" cy="417.6" r="2.25"/><circle cx="980.9" cy="418.0" r="2.25"/><circle cx="982.5" cy="417.5" r="2.25"/><circle cx="984.6" cy="417.1" r="2.25"/><circle cx="987.0" cy="417.0" r="2.25"/><circle cx="989.4" cy="417.0" r="2.25"/><circle cx="990.8" cy="416.9" r="2.25"/><circle cx="992.6" cy="416.8" r="2.25"/><circle cx="994.6" cy="416.8" r="2.25"/><circle cx="996.3" cy="416.3" r="2.25"/><circle cx="997.7" cy="416.1" r="2.25"/><circle cx="999.2" cy="416.2" r="2.25"/><circle cx="1000.4" cy="416.1" r="2.25"/><circle cx="1002.9" cy="416.1" r="2.25"/><circle cx="1005.8" cy="415.7" r="2.25"/><circle cx="1009.3" cy="415.7" r="2.25"/><circle cx="1010.8" cy="415.9" r="2.25"/><circle cx="1012.4" cy="415.8" r="2.25"/><circle cx="1014.3" cy="415.2" r="2.25"/><circle cx="1015.9" cy="415.6" r="2.25"/><circle cx="1017.8" cy="415.1" r="2.25"/><circle cx="1019.6" cy="415.3" r="2.25"/><circle cx="1021.3" cy="415.1" r="2.25"/><circle cx="1023.9" cy="414.8" r="2.25"/><circle cx="1025.8" cy="415.0" r="2.25"/><circle cx="1027.7" cy="415.1" r="2.25"/><circle cx="1029.6" cy="414.6" r="2.25"/><circle cx="1031.3" cy="414.6" r="2.25"/><circle cx="1033.7" cy="414.8" r="2.25"/><circle cx="1035.4" cy="414.5" r="2.25"/><circle cx="1037.1" cy="415.0" r="2.25"/><circle cx="1039.0" cy="414.9" r="2.25"/><circle cx="1040.4" cy="414.5" r="2.25"/><circle cx="1043.0" cy="414.6" r="2.25"/><circle cx="1044.1" cy="414.3" r="2.25"/><circle cx="1046.4" cy="413.7" r="2.25"/><circle cx="1047.9" cy="413.7" r="2.25"/><circle cx="1049.7" cy="413.4" r="2.25"/><circle cx="1051.6" cy="412.6" r="2.25"/><circle cx="1052.9" cy="412.4" r="2.25"/><circle cx="1055.4" cy="412.2" r="2.25"/><circle cx="1057.9" cy="411.9" r="2.25"/><circle cx="1059.0" cy="411.9" r="2.25"/><circle cx="1061.1" cy="411.6" r="2.25"/><circle cx="1062.6" cy="412.1" r="2.25"/><circle cx="1064.5" cy="412.0" r="2.25"/><circle cx="1067.1" cy="412.1" r="2.25"/><circle cx="1068.6" cy="411.8" r="2.25"/><circle cx="1070.6" cy="412.0" r="2.25"/><circle cx="1073.1" cy="412.1" r="2.25"/><circle cx="1076.5" cy="412.7" r="2.25"/><circle cx="1078.7" cy="412.7" r="2.25"/><circle cx="1080.9" cy="413.2" r="2.25"/><circle cx="1083.1" cy="413.2" r="2.25"/><circle cx="1084.4" cy="414.0" r="2.25"/><circle cx="1085.7" cy="413.8" r="2.25"/><circle cx="1087.7" cy="414.6" r="2.25"/><circle cx="1089.3" cy="415.1" r="2.25"/><circle cx="1091.1" cy="415.4" r="2.25"/><circle cx="1092.6" cy="415.6" r="2.25"/><circle cx="1093.9" cy="415.9" r="2.25"/><circle cx="1095.3" cy="416.0" r="2.25"/><circle cx="1096.1" cy="416.1" r="2.25"/><circle cx="1098.5" cy="416.5" r="2.25"/><circle cx="1099.7" cy="416.6" r="2.25"/></g><g fill="#000"><circle cx="1099.8" cy="416.9" r="2.4"/><circle cx="1101.5" cy="416.8" r="2.4"/><circle cx="1103.4" cy="416.5" r="2.4"/><circle cx="1105.0" cy="416.6" r="2.4"/><circle cx="1107.2" cy="416.2" r="2.4"/><circle cx="1109.0" cy="415.9" r="2.4"/><circle cx="1110.8" cy="415.8" r="2.4"/><circle cx="1112.0" cy="415.6" r="2.4"/><circle cx="1113.4" cy="414.6" r="2.4"/><circle cx="1115.3" cy="414.0" r="2.4"/><circle cx="1116.4" cy="413.4" r="2.4"/><circle cx="1117.8" cy="412.2" r="2.4"/><circle cx="1119.2" cy="410.8" r="2.4"/><circle cx="1120.0" cy="409.5" r="2.4"/><circle cx="1121.5" cy="408.9" r="2.4"/><circle cx="1122.7" cy="407.4" r="2.4"/><circle cx="1124.0" cy="406.7" r="2.4"/><circle cx="1125.3" cy="405.9" r="2.4"/><circle cx="1126.7" cy="405.2" r="2.4"/><circle cx="1128.3" cy="405.2" r="2.4"/><circle cx="1130.4" cy="404.6" r="2.4"/><circle cx="1132.0" cy="404.6" r="2.4"/><circle cx="1133.2" cy="404.7" r="2.4"/><circle cx="1135.3" cy="404.9" r="2.4"/><circle cx="1136.5" cy="405.7" r="2.4"/><circle cx="1138.0" cy="406.3" r="2.4"/><circle cx="1139.9" cy="406.9" r="2.4"/><circle cx="1140.8" cy="408.0" r="2.4"/><circle cx="1142.2" cy="408.9" r="2.4"/><circle cx="1142.6" cy="410.5" r="2.4"/><circle cx="1143.6" cy="412.3" r="2.4"/><circle cx="1144.1" cy="413.7" r="2.4"/><circle cx="1144.4" cy="415.2" r="2.4"/><circle cx="1144.3" cy="417.2" r="2.4"/><circle cx="1143.3" cy="418.7" r="2.4"/><circle cx="1142.6" cy="420.1" r="2.4"/><circle cx="1142.0" cy="421.8" r="2.4"/><circle cx="1140.7" cy="423.2" r="2.4"/><circle cx="1139.6" cy="423.9" r="2.4"/><circle cx="1137.7" cy="425.3" r="2.4"/><circle cx="1136.3" cy="425.8" r="2.4"/><circle cx="1135.0" cy="426.5" r="2.4"/><circle cx="1133.7" cy="427.5" r="2.4"/><circle cx="1132.0" cy="428.5" r="2.4"/><circle cx="1130.3" cy="429.1" r="2.4"/><circle cx="1129.2" cy="429.7" r="2.4"/><circle cx="1127.4" cy="430.3" r="2.4"/><circle cx="1125.6" cy="430.9" r="2.4"/><circle cx="1124.4" cy="430.8" r="2.4"/><circle cx="1122.7" cy="431.5" r="2.4"/><circle cx="1121.0" cy="431.6" r="2.4"/><circle cx="1119.6" cy="432.2" r="2.4"/><circle cx="1117.8" cy="432.0" r="2.4"/><circle cx="1116.0" cy="431.9" r="2.4"/><circle cx="1114.7" cy="431.7" r="2.4"/><circle cx="1112.7" cy="431.2" r="2.4"/><circle cx="1111.3" cy="431.2" r="2.4"/><circle cx="1109.5" cy="431.0" r="2.4"/><circle cx="1107.5" cy="431.4" r="2.4"/><circle cx="1105.6" cy="430.9" r="2.4"/><circle cx="1103.9" cy="431.3" r="2.4"/><circle cx="1102.2" cy="431.2" r="2.4"/><circle cx="1100.7" cy="430.9" r="2.4"/><circle cx="1098.6" cy="431.1" r="2.4"/><circle cx="1097.0" cy="431.4" r="2.4"/><circle cx="1095.4" cy="431.6" r="2.4"/><circle cx="1094.1" cy="432.0" r="2.4"/><circle cx="1092.5" cy="432.3" r="2.4"/><circle cx="1090.7" cy="432.5" r="2.4"/><circle cx="1089.1" cy="433.5" r="2.4"/><circle cx="1088.1" cy="433.9" r="2.4"/><circle cx="1086.2" cy="434.9" r="2.4"/><circle cx="1084.9" cy="436.0" r="2.4"/><circle cx="1084.0" cy="437.4" r="2.4"/><circle cx="1083.8" cy="438.8" r="2.4"/><circle cx="1083.6" cy="440.9" r="2.4"/><circle cx="1083.0" cy="442.7" r="2.4"/><circle cx="1083.5" cy="443.8" r="2.4"/><circle cx="1084.1" cy="445.2" r="2.4"/><circle cx="1084.5" cy="446.7" r="2.4"/><circle cx="1085.5" cy="447.8" r="2.4"/><circle cx="1086.9" cy="449.2" r="2.4"/><circle cx="1088.0" cy="450.3" r="2.4"/><circle cx="1089.8" cy="451.0" r="2.4"/><circle cx="1091.2" cy="451.8" r="2.4"/><circle cx="1092.4" cy="453.1" r="2.4"/><circle cx="1093.9" cy="453.9" r="2.4"/><circle cx="1096.0" cy="454.6" r="2.4"/><circle cx="1097.5" cy="454.9" r="2.4"/><circle cx="1098.6" cy="455.8" r="2.4"/><circle cx="1100.5" cy="456.5" r="2.4"/><circle cx="1101.9" cy="456.7" r="2.4"/><circle cx="1103.6" cy="457.8" r="2.4"/><circle cx="1105.2" cy="457.8" r="2.4"/><circle cx="1106.9" cy="458.7" r="2.4"/></g><g fill="#000"><circle cx="1100.0" cy="454.5" r="2.25"/><circle cx="1102.4" cy="454.8" r="2.25"/><circle cx="1105.2" cy="455.2" r="2.25"/><circle cx="1106.9" cy="455.6" r="2.25"/><circle cx="1108.6" cy="456.0" r="2.25"/><circle cx="1110.6" cy="456.0" r="2.25"/><circle cx="1111.9" cy="456.2" r="2.25"/><circle cx="1114.2" cy="456.2" r="2.25"/><circle cx="1116.0" cy="456.1" r="2.25"/><circle cx="1117.9" cy="456.0" r="2.25"/><circle cx="1118.9" cy="456.0" r="2.25"/><circle cx="1121.4" cy="455.6" r="2.25"/><circle cx="1123.1" cy="456.0" r="2.25"/><circle cx="1124.9" cy="455.8" r="2.25"/><circle cx="1125.9" cy="456.0" r="2.25"/><circle cx="1127.5" cy="456.0" r="2.25"/><circle cx="1129.6" cy="455.9" r="2.25"/><circle cx="1130.9" cy="456.5" r="2.25"/><circle cx="1132.8" cy="456.3" r="2.25"/><circle cx="1135.0" cy="456.4" r="2.25"/><circle cx="1136.7" cy="456.0" r="2.25"/><circle cx="1138.7" cy="455.7" r="2.25"/><circle cx="1140.6" cy="455.8" r="2.25"/><circle cx="1142.8" cy="455.7" r="2.25"/><circle cx="1144.7" cy="455.2" r="2.25"/><circle cx="1146.6" cy="453.9" r="2.25"/><circle cx="1147.4" cy="452.8" r="2.25"/><circle cx="1148.2" cy="451.6" r="2.25"/><circle cx="1149.4" cy="451.0" r="2.25"/><circle cx="1151.3" cy="450.8" r="2.25"/><circle cx="1152.5" cy="451.6" r="2.25"/><circle cx="1153.6" cy="452.1" r="2.25"/><circle cx="1155.0" cy="452.6" r="2.25"/><circle cx="1156.8" cy="451.8" r="2.25"/><circle cx="1158.1" cy="451.2" r="2.25"/><circle cx="1159.7" cy="450.5" r="2.25"/><circle cx="1160.5" cy="451.4" r="2.25"/><circle cx="1164.1" cy="454.0" r="2.25"/><circle cx="1166.6" cy="454.9" r="2.25"/><circle cx="1170.2" cy="455.5" r="2.25"/><circle cx="1172.4" cy="455.4" r="2.25"/><circle cx="1174.0" cy="454.6" r="2.25"/><circle cx="1175.2" cy="454.1" r="2.25"/><circle cx="1179.6" cy="453.2" r="2.25"/><circle cx="1180.8" cy="452.5" r="2.25"/><circle cx="1183.0" cy="452.3" r="2.25"/><circle cx="1184.4" cy="451.9" r="2.25"/><circle cx="1185.6" cy="451.4" r="2.25"/><circle cx="1186.9" cy="450.8" r="2.25"/><circle cx="1188.3" cy="450.4" r="2.25"/><circle cx="1192.2" cy="450.7" r="2.25"/><circle cx="1193.6" cy="450.7" r="2.25"/><circle cx="1195.5" cy="450.5" r="2.25"/><circle cx="1197.3" cy="451.1" r="2.25"/><circle cx="1198.9" cy="451.2" r="2.25"/><circle cx="1201.0" cy="451.3" r="2.25"/><circle cx="1202.8" cy="451.6" r="2.25"/><circle cx="1205.0" cy="452.2" r="2.25"/><circle cx="1206.7" cy="452.8" r="2.25"/><circle cx="1208.2" cy="453.6" r="2.25"/><circle cx="1210.3" cy="453.8" r="2.25"/><circle cx="1212.2" cy="453.6" r="2.25"/><circle cx="1214.0" cy="453.5" r="2.25"/><circle cx="1215.7" cy="453.4" r="2.25"/><circle cx="1217.0" cy="453.4" r="2.25"/><circle cx="1218.7" cy="453.0" r="2.25"/><circle cx="1222.4" cy="453.4" r="2.25"/><circle cx="1224.0" cy="453.2" r="2.25"/><circle cx="1225.9" cy="453.1" r="2.25"/><circle cx="1228.2" cy="453.3" r="2.25"/><circle cx="1230.1" cy="453.4" r="2.25"/></g><g fill="#000"><circle cx="1151.0" cy="458.2" r="2.25"/><circle cx="1151.6" cy="460.0" r="2.25"/><circle cx="1151.7" cy="460.0" r="2.25"/></g><g fill="#00dc00" stroke="#007a00" stroke-width="0.55"><circle cx="824.3" cy="425.6" r="1.95"/><circle cx="826.5" cy="425.5" r="1.95"/><circle cx="827.9" cy="425.1" r="1.95"/><circle cx="829.9" cy="424.7" r="1.95"/><circle cx="831.5" cy="424.6" r="1.95"/><circle cx="833.6" cy="424.4" r="1.95"/><circle cx="835.2" cy="424.1" r="1.95"/><circle cx="836.8" cy="424.3" r="1.95"/><circle cx="838.5" cy="424.2" r="1.95"/><circle cx="840.0" cy="424.3" r="1.95"/><circle cx="841.7" cy="423.8" r="1.95"/><circle cx="843.1" cy="423.9" r="1.95"/><circle cx="845.1" cy="423.8" r="1.95"/><circle cx="846.8" cy="423.6" r="1.95"/><circle cx="848.6" cy="423.6" r="1.95"/><circle cx="850.2" cy="423.0" r="1.95"/><circle cx="852.3" cy="423.2" r="1.95"/><circle cx="853.9" cy="423.0" r="1.95"/><circle cx="855.7" cy="422.8" r="1.95"/><circle cx="857.9" cy="422.9" r="1.95"/><circle cx="859.8" cy="422.7" r="1.95"/><circle cx="861.4" cy="422.9" r="1.95"/><circle cx="863.2" cy="422.4" r="1.95"/><circle cx="864.8" cy="422.4" r="1.95"/><circle cx="866.2" cy="421.9" r="1.95"/><circle cx="868.0" cy="422.2" r="1.95"/><circle cx="869.8" cy="421.7" r="1.95"/><circle cx="871.4" cy="421.6" r="1.95"/><circle cx="873.1" cy="421.4" r="1.95"/><circle cx="875.1" cy="421.3" r="1.95"/><circle cx="876.7" cy="421.5" r="1.95"/><circle cx="878.1" cy="420.9" r="1.95"/><circle cx="880.4" cy="420.8" r="1.95"/><circle cx="881.9" cy="420.4" r="1.95"/><circle cx="883.7" cy="420.5" r="1.95"/><circle cx="885.5" cy="420.2" r="1.95"/><circle cx="887.4" cy="419.7" r="1.95"/><circle cx="889.2" cy="419.9" r="1.95"/><circle cx="891.0" cy="419.4" r="1.95"/><circle cx="892.4" cy="419.3" r="1.95"/><circle cx="894.1" cy="419.4" r="1.95"/><circle cx="895.6" cy="419.6" r="1.95"/><circle cx="897.8" cy="419.2" r="1.95"/><circle cx="899.5" cy="419.1" r="1.95"/><circle cx="900.7" cy="419.4" r="1.95"/><circle cx="902.4" cy="419.3" r="1.95"/><circle cx="904.4" cy="419.1" r="1.95"/><circle cx="906.4" cy="418.6" r="1.95"/><circle cx="908.2" cy="418.0" r="1.95"/><circle cx="909.8" cy="417.9" r="1.95"/><circle cx="912.2" cy="417.5" r="1.95"/><circle cx="913.5" cy="417.6" r="1.95"/><circle cx="915.1" cy="417.4" r="1.95"/><circle cx="916.8" cy="417.1" r="1.95"/><circle cx="919.0" cy="417.0" r="1.95"/><circle cx="920.6" cy="417.2" r="1.95"/><circle cx="922.1" cy="416.7" r="1.95"/><circle cx="923.6" cy="416.8" r="1.95"/><circle cx="925.6" cy="416.7" r="1.95"/><circle cx="927.4" cy="416.4" r="1.95"/><circle cx="928.9" cy="416.3" r="1.95"/><circle cx="931.2" cy="416.2" r="1.95"/><circle cx="932.8" cy="416.4" r="1.95"/><circle cx="934.4" cy="416.0" r="1.95"/><circle cx="935.9" cy="415.9" r="1.95"/><circle cx="937.4" cy="415.7" r="1.95"/><circle cx="939.1" cy="415.5" r="1.95"/><circle cx="940.8" cy="415.4" r="1.95"/><circle cx="943.0" cy="415.5" r="1.95"/><circle cx="944.8" cy="415.0" r="1.95"/><circle cx="946.4" cy="415.0" r="1.95"/><circle cx="948.1" cy="415.3" r="1.95"/><circle cx="949.8" cy="415.1" r="1.95"/><circle cx="951.3" cy="414.8" r="1.95"/><circle cx="953.3" cy="414.6" r="1.95"/><circle cx="955.1" cy="414.5" r="1.95"/><circle cx="956.8" cy="414.3" r="1.95"/><circle cx="958.7" cy="413.8" r="1.95"/><circle cx="960.3" cy="413.4" r="1.95"/><circle cx="962.2" cy="412.7" r="1.95"/><circle cx="963.9" cy="412.7" r="1.95"/><circle cx="965.7" cy="412.1" r="1.95"/><circle cx="967.7" cy="411.8" r="1.95"/><circle cx="969.1" cy="411.6" r="1.95"/><circle cx="971.3" cy="411.3" r="1.95"/><circle cx="972.8" cy="411.4" r="1.95"/><circle cx="974.5" cy="411.0" r="1.95"/><circle cx="976.1" cy="410.8" r="1.95"/><circle cx="977.8" cy="410.7" r="1.95"/><circle cx="979.3" cy="410.1" r="1.95"/><circle cx="981.4" cy="409.6" r="1.95"/><circle cx="982.9" cy="409.5" r="1.95"/><circle cx="984.2" cy="408.9" r="1.95"/><circle cx="986.5" cy="408.8" r="1.95"/><circle cx="987.7" cy="408.3" r="1.95"/><circle cx="989.5" cy="408.4" r="1.95"/><circle cx="991.2" cy="408.1" r="1.95"/><circle cx="993.2" cy="407.9" r="1.95"/><circle cx="995.1" cy="407.4" r="1.95"/><circle cx="996.5" cy="407.5" r="1.95"/><circle cx="998.3" cy="407.1" r="1.95"/><circle cx="1000.5" cy="407.1" r="1.95"/><circle cx="1001.9" cy="406.3" r="1.95"/><circle cx="1003.5" cy="406.0" r="1.95"/><circle cx="1005.2" cy="405.9" r="1.95"/><circle cx="1007.3" cy="405.4" r="1.95"/><circle cx="1009.0" cy="404.9" r="1.95"/><circle cx="1010.4" cy="405.0" r="1.95"/><circle cx="1011.9" cy="405.2" r="1.95"/><circle cx="1013.9" cy="404.8" r="1.95"/><circle cx="1015.3" cy="405.1" r="1.95"/><circle cx="1017.2" cy="404.6" r="1.95"/><circle cx="1018.9" cy="404.5" r="1.95"/><circle cx="1020.7" cy="404.7" r="1.95"/><circle cx="1022.6" cy="404.7" r="1.95"/><circle cx="1024.3" cy="404.5" r="1.95"/><circle cx="1026.2" cy="404.3" r="1.95"/><circle cx="1028.4" cy="404.1" r="1.95"/><circle cx="1029.8" cy="404.0" r="1.95"/><circle cx="1031.6" cy="403.5" r="1.95"/><circle cx="1033.7" cy="403.3" r="1.95"/><circle cx="1035.2" cy="403.0" r="1.95"/><circle cx="1037.1" cy="402.8" r="1.95"/><circle cx="1038.5" cy="402.6" r="1.95"/><circle cx="1040.0" cy="402.4" r="1.95"/><circle cx="1042.0" cy="402.3" r="1.95"/><circle cx="1043.1" cy="402.1" r="1.95"/><circle cx="1044.8" cy="402.5" r="1.95"/><circle cx="1046.8" cy="402.0" r="1.95"/><circle cx="1048.6" cy="402.5" r="1.95"/><circle cx="1050.2" cy="402.5" r="1.95"/><circle cx="1052.0" cy="402.5" r="1.95"/><circle cx="1054.2" cy="402.8" r="1.95"/><circle cx="1056.1" cy="402.5" r="1.95"/><circle cx="1057.8" cy="402.8" r="1.95"/><circle cx="1059.8" cy="402.8" r="1.95"/><circle cx="1061.6" cy="403.0" r="1.95"/><circle cx="1063.0" cy="402.8" r="1.95"/><circle cx="1064.8" cy="403.4" r="1.95"/><circle cx="1066.7" cy="403.6" r="1.95"/><circle cx="1068.2" cy="403.9" r="1.95"/><circle cx="1070.0" cy="404.9" r="1.95"/><circle cx="1071.7" cy="405.2" r="1.95"/><circle cx="1073.0" cy="406.2" r="1.95"/><circle cx="1074.6" cy="406.6" r="1.95"/><circle cx="1076.2" cy="407.2" r="1.95"/><circle cx="1077.5" cy="407.6" r="1.95"/><circle cx="1079.1" cy="408.1" r="1.95"/><circle cx="1081.0" cy="408.4" r="1.95"/><circle cx="1082.7" cy="409.0" r="1.95"/><circle cx="1084.3" cy="409.8" r="1.95"/><circle cx="1086.3" cy="410.3" r="1.95"/><circle cx="1088.2" cy="410.8" r="1.95"/><circle cx="1089.4" cy="411.6" r="1.95"/><circle cx="1090.8" cy="412.3" r="1.95"/><circle cx="1092.5" cy="412.7" r="1.95"/><circle cx="1094.0" cy="413.7" r="1.95"/><circle cx="1095.7" cy="414.0" r="1.95"/><circle cx="1097.5" cy="414.9" r="1.95"/><circle cx="1098.9" cy="415.9" r="1.95"/><circle cx="1100.7" cy="417.0" r="1.95"/><circle cx="1102.2" cy="418.0" r="1.95"/><circle cx="1103.6" cy="418.7" r="1.95"/><circle cx="1105.1" cy="419.3" r="1.95"/><circle cx="1106.7" cy="420.5" r="1.95"/><circle cx="1107.8" cy="421.2" r="1.95"/><circle cx="1109.6" cy="422.0" r="1.95"/><circle cx="1110.9" cy="422.6" r="1.95"/><circle cx="1112.8" cy="423.6" r="1.95"/><circle cx="1113.7" cy="424.8" r="1.95"/><circle cx="1115.3" cy="425.9" r="1.95"/><circle cx="1116.5" cy="427.1" r="1.95"/><circle cx="1117.4" cy="428.6" r="1.95"/><circle cx="1117.1" cy="430.1" r="1.95"/><circle cx="1115.4" cy="431.3" r="1.95"/><circle cx="1114.1" cy="432.4" r="1.95"/><circle cx="1112.6" cy="433.2" r="1.95"/><circle cx="1110.5" cy="433.2" r="1.95"/><circle cx="1108.9" cy="433.9" r="1.95"/><circle cx="1107.4" cy="434.2" r="1.95"/><circle cx="1106.1" cy="434.3" r="1.95"/><circle cx="1104.0" cy="434.3" r="1.95"/><circle cx="1102.6" cy="434.1" r="1.95"/><circle cx="1100.7" cy="434.5" r="1.95"/><circle cx="1099.2" cy="434.4" r="1.95"/><circle cx="1097.2" cy="434.1" r="1.95"/><circle cx="1095.4" cy="434.1" r="1.95"/><circle cx="1093.3" cy="433.2" r="1.95"/><circle cx="1091.8" cy="433.0" r="1.95"/><circle cx="1089.9" cy="432.3" r="1.95"/><circle cx="1088.4" cy="432.7" r="1.95"/><circle cx="1086.1" cy="432.6" r="1.95"/><circle cx="1084.5" cy="432.6" r="1.95"/><circle cx="1083.4" cy="433.7" r="1.95"/><circle cx="1082.1" cy="435.4" r="1.95"/><circle cx="1082.0" cy="437.4" r="1.95"/><circle cx="1082.7" cy="438.7" r="1.95"/><circle cx="1083.0" cy="440.1" r="1.95"/><circle cx="1084.4" cy="442.1" r="1.95"/><circle cx="1085.3" cy="442.9" r="1.95"/><circle cx="1087.1" cy="444.2" r="1.95"/><circle cx="1088.5" cy="445.6" r="1.95"/><circle cx="1089.5" cy="446.3" r="1.95"/><circle cx="1091.3" cy="447.7" r="1.95"/><circle cx="1092.9" cy="448.2" r="1.95"/><circle cx="1094.1" cy="449.3" r="1.95"/><circle cx="1095.6" cy="450.1" r="1.95"/><circle cx="1097.6" cy="450.7" r="1.95"/><circle cx="1098.8" cy="451.4" r="1.95"/><circle cx="1100.8" cy="451.8" r="1.95"/><circle cx="1102.5" cy="452.2" r="1.95"/><circle cx="1104.3" cy="452.6" r="1.95"/><circle cx="1106.0" cy="452.8" r="1.95"/><circle cx="1107.9" cy="453.1" r="1.95"/><circle cx="1109.9" cy="453.4" r="1.95"/><circle cx="1111.3" cy="453.9" r="1.95"/><circle cx="1113.0" cy="454.5" r="1.95"/><circle cx="1114.8" cy="454.4" r="1.95"/><circle cx="1116.5" cy="455.0" r="1.95"/><circle cx="1118.3" cy="455.0" r="1.95"/><circle cx="1120.3" cy="455.5" r="1.95"/><circle cx="1121.6" cy="455.3" r="1.95"/><circle cx="1123.4" cy="455.8" r="1.95"/><circle cx="1125.5" cy="456.0" r="1.95"/><circle cx="1126.8" cy="455.7" r="1.95"/><circle cx="1128.8" cy="456.1" r="1.95"/><circle cx="1130.7" cy="456.2" r="1.95"/><circle cx="1132.2" cy="456.0" r="1.95"/><circle cx="1133.8" cy="456.0" r="1.95"/><circle cx="1135.8" cy="456.4" r="1.95"/><circle cx="1137.2" cy="456.3" r="1.95"/><circle cx="1138.8" cy="455.9" r="1.95"/><circle cx="1140.6" cy="455.7" r="1.95"/><circle cx="1142.4" cy="455.8" r="1.95"/><circle cx="1144.0" cy="455.9" r="1.95"/><circle cx="1145.7" cy="455.7" r="1.95"/><circle cx="1147.2" cy="455.6" r="1.95"/><circle cx="1149.0" cy="455.6" r="1.95"/><circle cx="1150.7" cy="455.6" r="1.95"/><circle cx="1152.7" cy="455.3" r="1.95"/><circle cx="1154.3" cy="455.7" r="1.95"/><circle cx="1156.3" cy="455.1" r="1.95"/><circle cx="1158.0" cy="455.3" r="1.95"/><circle cx="1159.8" cy="455.2" r="1.95"/><circle cx="1161.9" cy="455.2" r="1.95"/><circle cx="1163.7" cy="455.3" r="1.95"/><circle cx="1165.0" cy="455.3" r="1.95"/><circle cx="1167.4" cy="455.6" r="1.95"/><circle cx="1168.9" cy="455.7" r="1.95"/><circle cx="1170.7" cy="455.5" r="1.95"/><circle cx="1172.1" cy="455.9" r="1.95"/><circle cx="1173.9" cy="455.4" r="1.95"/><circle cx="1175.6" cy="455.8" r="1.95"/><circle cx="1177.1" cy="455.5" r="1.95"/><circle cx="1179.0" cy="455.6" r="1.95"/><circle cx="1180.6" cy="456.0" r="1.95"/><circle cx="1182.6" cy="456.0" r="1.95"/><circle cx="1184.1" cy="456.2" r="1.95"/><circle cx="1185.8" cy="455.9" r="1.95"/><circle cx="1187.9" cy="455.7" r="1.95"/><circle cx="1189.7" cy="455.9" r="1.95"/><circle cx="1191.5" cy="455.7" r="1.95"/><circle cx="1193.4" cy="455.9" r="1.95"/><circle cx="1195.0" cy="455.6" r="1.95"/><circle cx="1197.1" cy="455.7" r="1.95"/><circle cx="1198.4" cy="455.7" r="1.95"/><circle cx="1200.2" cy="455.5" r="1.95"/><circle cx="1201.9" cy="455.5" r="1.95"/><circle cx="1203.6" cy="455.7" r="1.95"/><circle cx="1205.5" cy="456.0" r="1.95"/><circle cx="1206.9" cy="455.7" r="1.95"/><circle cx="1208.7" cy="455.7" r="1.95"/><circle cx="1210.7" cy="455.8" r="1.95"/><circle cx="1212.3" cy="456.0" r="1.95"/><circle cx="1213.8" cy="455.8" r="1.95"/><circle cx="1215.8" cy="455.9" r="1.95"/><circle cx="1217.5" cy="456.4" r="1.95"/><circle cx="1219.2" cy="456.4" r="1.95"/><circle cx="1221.3" cy="456.2" r="1.95"/><circle cx="1222.7" cy="456.1" r="1.95"/><circle cx="1224.8" cy="456.6" r="1.95"/><circle cx="1226.6" cy="456.5" r="1.95"/><circle cx="1228.4" cy="456.5" r="1.95"/><circle cx="1230.0" cy="456.5" r="1.95"/></g></g><g stroke="#222" stroke-width="1" fill="none" shape-rendering="auto"><path d="M685.5 299V512.3H1230.5" stroke-width="1.1"/><path d="M685.5 485.50h4.8M685.5 455.20h4.8M685.5 424.90h4.8M685.5 394.60h4.8M685.5 364.30h4.8M685.5 334.00h4.8M685.5 303.70h4.8M685.50 512.3v-4.8M746.00 512.3v-4.8M806.50 512.3v-4.8M867.00 512.3v-4.8M927.50 512.3v-4.8M988.00 512.3v-4.8M1048.50 512.3v-4.8M1109.00 512.3v-4.8M1169.50 512.3v-4.8M1230.00 512.3v-4.8" stroke-width="1"/><path d="M685.5 509.74h3M685.5 503.68h3M685.5 497.62h3M685.5 491.56h3M685.5 479.44h3M685.5 473.38h3M685.5 467.32h3M685.5 461.26h3M685.5 449.14h3M685.5 443.08h3M685.5 437.02h3M685.5 430.96h3M685.5 418.84h3M685.5 412.78h3M685.5 406.72h3M685.5 400.66h3M685.5 388.54h3M685.5 382.48h3M685.5 376.42h3M685.5 370.36h3M685.5 358.24h3M685.5 352.18h3M685.5 346.12h3M685.5 340.06h3M685.5 327.94h3M685.5 321.88h3M685.5 315.82h3M685.5 309.76h3M697.60 512.3v-3M709.70 512.3v-3M721.80 512.3v-3M733.90 512.3v-3M758.10 512.3v-3M770.20 512.3v-3M782.30 512.3v-3M794.40 512.3v-3M818.60 512.3v-3M830.70 512.3v-3M842.80 512.3v-3M854.90 512.3v-3M879.10 512.3v-3M891.20 512.3v-3M903.30 512.3v-3M915.40 512.3v-3M939.60 512.3v-3M951.70 512.3v-3M963.80 512.3v-3M975.90 512.3v-3M1000.10 512.3v-3M1012.20 512.3v-3M1024.30 512.3v-3M1036.40 512.3v-3M1060.60 512.3v-3M1072.70 512.3v-3M1084.80 512.3v-3M1096.90 512.3v-3M1121.10 512.3v-3M1133.20 512.3v-3M1145.30 512.3v-3M1157.40 512.3v-3M1181.60 512.3v-3M1193.70 512.3v-3M1205.80 512.3v-3M1217.90 512.3v-3" stroke="#bdbdbd" stroke-width="0.9"/></g><g font-family="Liberation Sans, sans-serif" font-size="14.4" fill="#111"><text x="678.5" y="308.6" text-anchor="end">1.25</text><text x="678.5" y="338.9" text-anchor="end">1</text><text x="678.5" y="369.2" text-anchor="end">0.75</text><text x="678.5" y="399.5" text-anchor="end">0.5</text><text x="678.5" y="429.8" text-anchor="end">0.25</text><text x="678.5" y="460.1" text-anchor="end">0</text><text x="678.5" y="490.4" text-anchor="end">-0.25</text><text x="685.5" y="524.7" text-anchor="middle">10.5</text><text x="746.0" y="524.7" text-anchor="middle">11</text><text x="806.5" y="524.7" text-anchor="middle">11.5</text><text x="867.0" y="524.7" text-anchor="middle">12</text><text x="927.5" y="524.7" text-anchor="middle">12.5</text><text x="988.0" y="524.7" text-anchor="middle">13</text><text x="1048.5" y="524.7" text-anchor="middle">13.5</text><text x="1109.0" y="524.7" text-anchor="middle">14</text><text x="1169.5" y="524.7" text-anchor="middle">14.5</text><text x="1230.0" y="524.7" text-anchor="middle">15</text></g><g font-family="Liberation Sans, sans-serif" font-size="14.4" font-weight="bold" fill="#111"><text transform="translate(661 405.5) rotate(-90)" text-anchor="middle">Y</text><text x="958" y="532" text-anchor="middle">X</text></g></g></svg>
<div class="cap" style="left:303.5px;top:258px">(<b>a</b>)</div>
<div class="cap" style="left:944.3px;top:258px">(<b>b</b>)</div>
<div class="cap" style="left:303.5px;top:542px">(<b>c</b>)</div>
<div class="cap" style="left:944.3px;top:542px">(<b>d</b>)</div>
</body></html>
